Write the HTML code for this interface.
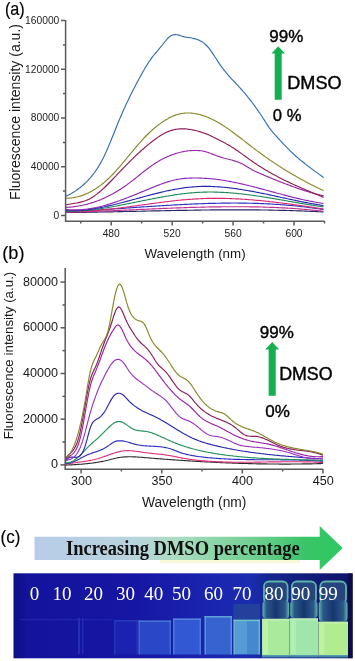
<!DOCTYPE html>
<html><head><meta charset="utf-8">
<style>
html,body{margin:0;padding:0;background:#fff;}
body{width:355px;height:661px;overflow:hidden;position:relative;}
svg{position:absolute;left:0;top:0;will-change:transform;}
text{font-family:"Liberation Sans", sans-serif;fill:#1a1a1a;}
.ta{fill:#222;stroke:none;} .tb{fill:#1a1a1a;stroke:none;}
.ta{font-size:10.25px;}
.tb{font-size:12.6px;}
.serif{font-family:"Liberation Serif", serif;}
.cal{fill:#000;stroke:#000;stroke-width:0.4px;}
.lab{fill:#000;stroke:#000;stroke-width:0.15px;}
</style></head><body>
<svg width="355" height="661" viewBox="0 0 355 661">
<defs>
<linearGradient id="bg" x1="0" y1="0" x2="1" y2="0">
<stop offset="0" stop-color="#b8cce8"/>
<stop offset="0.33" stop-color="#b8d4dc"/>
<stop offset="0.46" stop-color="#acdcc2"/>
<stop offset="0.7" stop-color="#72d092"/>
<stop offset="0.88" stop-color="#3ac468"/>
<stop offset="1" stop-color="#2ec860"/>
</linearGradient>
</defs>
<!-- panel a -->
<text class="lab" transform="translate(4.9,14.9) scale(1,1.19)" style="font-size:16.2px">(a)</text>
<text transform="translate(20.4,112) rotate(-90)" text-anchor="middle" style="font-size:14px">Fluorescence intensity (a.u.)</text>
<text x="195" y="257.9" text-anchor="middle" style="font-size:13.37px">Wavelength (nm)</text>
<g fill="none" stroke-width="1.15" stroke-linejoin="round">
<path d="M65.5,212.5 L66.5,212.5 L67.5,212.5 L68.5,212.5 L69.5,212.5 L70.5,212.5 L71.5,212.5 L72.5,212.5 L73.5,212.4 L74.5,212.4 L75.5,212.4 L76.5,212.4 L77.5,212.4 L78.5,212.4 L79.5,212.4 L80.5,212.3 L81.5,212.3 L82.5,212.3 L83.5,212.3 L84.5,212.3 L85.5,212.3 L86.5,212.3 L87.5,212.2 L88.5,212.2 L89.5,212.2 L90.5,212.2 L91.5,212.2 L92.5,212.2 L93.5,212.1 L94.5,212.1 L95.5,212.1 L96.5,212.1 L97.5,212.1 L98.5,212.0 L99.5,212.0 L100.5,212.0 L101.5,212.0 L102.5,212.0 L103.5,212.0 L104.5,211.9 L105.5,211.9 L106.5,211.9 L107.5,211.9 L108.5,211.9 L109.5,211.8 L110.5,211.8 L111.5,211.8 L112.5,211.8 L113.5,211.8 L114.5,211.7 L115.5,211.7 L116.5,211.7 L117.5,211.7 L118.5,211.6 L119.5,211.6 L120.5,211.6 L121.5,211.6 L122.5,211.6 L123.5,211.5 L124.5,211.5 L125.5,211.5 L126.5,211.5 L127.5,211.5 L128.5,211.4 L129.5,211.4 L130.5,211.4 L131.5,211.4 L132.5,211.3 L133.5,211.3 L134.5,211.3 L135.5,211.3 L136.5,211.3 L137.5,211.2 L138.5,211.2 L139.5,211.2 L140.5,211.2 L141.5,211.2 L142.5,211.1 L143.5,211.1 L144.5,211.1 L145.5,211.1 L146.5,211.0 L147.5,211.0 L148.5,211.0 L149.5,211.0 L150.5,211.0 L151.5,210.9 L152.5,210.9 L153.5,210.9 L154.5,210.9 L155.5,210.9 L156.5,210.8 L157.5,210.8 L158.5,210.8 L159.5,210.8 L160.5,210.8 L161.5,210.7 L162.5,210.7 L163.5,210.7 L164.5,210.7 L165.5,210.6 L166.5,210.6 L167.5,210.6 L168.5,210.6 L169.5,210.6 L170.5,210.6 L171.5,210.5 L172.5,210.5 L173.5,210.5 L174.5,210.5 L175.5,210.5 L176.5,210.4 L177.5,210.4 L178.5,210.4 L179.5,210.4 L180.5,210.4 L181.5,210.4 L182.5,210.3 L183.5,210.3 L184.5,210.3 L185.5,210.3 L186.5,210.3 L187.5,210.3 L188.5,210.2 L189.5,210.2 L190.5,210.2 L191.5,210.2 L192.5,210.2 L193.5,210.2 L194.5,210.1 L195.5,210.1 L196.5,210.1 L197.5,210.1 L198.5,210.1 L199.5,210.1 L200.5,210.1 L201.5,210.0 L202.5,210.0 L203.5,210.0 L204.5,210.0 L205.5,210.0 L206.5,210.0 L207.5,210.0 L208.5,210.0 L209.5,210.0 L210.5,209.9 L211.5,209.9 L212.5,209.9 L213.5,209.9 L214.5,209.9 L215.5,209.9 L216.5,209.9 L217.5,209.9 L218.5,209.9 L219.5,209.9 L220.5,209.9 L221.5,209.9 L222.5,209.9 L223.5,209.8 L224.5,209.8 L225.5,209.8 L226.5,209.8 L227.5,209.8 L228.5,209.8 L229.5,209.8 L230.5,209.8 L231.5,209.8 L232.5,209.8 L233.5,209.8 L234.5,209.8 L235.5,209.8 L236.5,209.8 L237.5,209.8 L238.5,209.8 L239.5,209.8 L240.5,209.8 L241.5,209.8 L242.5,209.8 L243.5,209.8 L244.5,209.8 L245.5,209.8 L246.5,209.8 L247.5,209.8 L248.5,209.8 L249.5,209.9 L250.5,209.9 L251.5,209.9 L252.5,209.9 L253.5,209.9 L254.5,209.9 L255.5,209.9 L256.5,209.9 L257.5,209.9 L258.5,209.9 L259.5,209.9 L260.5,210.0 L261.5,210.0 L262.5,210.0 L263.5,210.0 L264.5,210.0 L265.5,210.0 L266.5,210.0 L267.5,210.0 L268.5,210.1 L269.5,210.1 L270.5,210.1 L271.5,210.1 L272.5,210.1 L273.5,210.2 L274.5,210.2 L275.5,210.2 L276.5,210.2 L277.5,210.2 L278.5,210.3 L279.5,210.3 L280.5,210.3 L281.5,210.3 L282.5,210.3 L283.5,210.4 L284.5,210.4 L285.5,210.4 L286.5,210.5 L287.5,210.5 L288.5,210.5 L289.5,210.5 L290.5,210.6 L291.5,210.6 L292.5,210.6 L293.5,210.7 L294.5,210.7 L295.5,210.7 L296.5,210.8 L297.5,210.8 L298.5,210.8 L299.5,210.9 L300.5,210.9 L301.5,210.9 L302.5,211.0 L303.5,211.0 L304.5,211.1 L305.5,211.1 L306.5,211.1 L307.5,211.2 L308.5,211.2 L309.5,211.3 L310.5,211.3 L311.5,211.4 L312.5,211.4 L313.5,211.4 L314.5,211.5 L315.5,211.5 L316.5,211.6 L317.5,211.6 L318.5,211.7 L319.5,211.7 L320.5,211.8 L321.5,211.8 L322.5,211.9 L323.5,211.9" stroke="#2a2a66"/>
<path d="M65.5,212.2 L66.5,212.1 L67.5,212.1 L68.5,212.1 L69.5,212.1 L70.5,212.1 L71.5,212.0 L72.5,212.0 L73.5,212.0 L74.5,212.0 L75.5,211.9 L76.5,211.9 L77.5,211.9 L78.5,211.9 L79.5,211.8 L80.5,211.8 L81.5,211.8 L82.5,211.7 L83.5,211.7 L84.5,211.7 L85.5,211.7 L86.5,211.6 L87.5,211.6 L88.5,211.6 L89.5,211.5 L90.5,211.5 L91.5,211.5 L92.5,211.4 L93.5,211.4 L94.5,211.3 L95.5,211.3 L96.5,211.3 L97.5,211.2 L98.5,211.2 L99.5,211.2 L100.5,211.1 L101.5,211.1 L102.5,211.1 L103.5,211.0 L104.5,211.0 L105.5,210.9 L106.5,210.9 L107.5,210.9 L108.5,210.8 L109.5,210.8 L110.5,210.7 L111.5,210.7 L112.5,210.7 L113.5,210.6 L114.5,210.6 L115.5,210.5 L116.5,210.5 L117.5,210.4 L118.5,210.4 L119.5,210.4 L120.5,210.3 L121.5,210.3 L122.5,210.2 L123.5,210.2 L124.5,210.1 L125.5,210.1 L126.5,210.1 L127.5,210.0 L128.5,210.0 L129.5,209.9 L130.5,209.9 L131.5,209.8 L132.5,209.8 L133.5,209.8 L134.5,209.7 L135.5,209.7 L136.5,209.6 L137.5,209.6 L138.5,209.5 L139.5,209.5 L140.5,209.4 L141.5,209.4 L142.5,209.4 L143.5,209.3 L144.5,209.3 L145.5,209.2 L146.5,209.2 L147.5,209.1 L148.5,209.1 L149.5,209.0 L150.5,209.0 L151.5,209.0 L152.5,208.9 L153.5,208.9 L154.5,208.8 L155.5,208.8 L156.5,208.7 L157.5,208.7 L158.5,208.7 L159.5,208.6 L160.5,208.6 L161.5,208.5 L162.5,208.5 L163.5,208.4 L164.5,208.4 L165.5,208.4 L166.5,208.3 L167.5,208.3 L168.5,208.2 L169.5,208.2 L170.5,208.2 L171.5,208.1 L172.5,208.1 L173.5,208.0 L174.5,208.0 L175.5,208.0 L176.5,207.9 L177.5,207.9 L178.5,207.9 L179.5,207.8 L180.5,207.8 L181.5,207.7 L182.5,207.7 L183.5,207.7 L184.5,207.6 L185.5,207.6 L186.5,207.6 L187.5,207.5 L188.5,207.5 L189.5,207.5 L190.5,207.4 L191.5,207.4 L192.5,207.4 L193.5,207.4 L194.5,207.3 L195.5,207.3 L196.5,207.3 L197.5,207.2 L198.5,207.2 L199.5,207.2 L200.5,207.2 L201.5,207.1 L202.5,207.1 L203.5,207.1 L204.5,207.1 L205.5,207.0 L206.5,207.0 L207.5,207.0 L208.5,207.0 L209.5,206.9 L210.5,206.9 L211.5,206.9 L212.5,206.9 L213.5,206.9 L214.5,206.9 L215.5,206.8 L216.5,206.8 L217.5,206.8 L218.5,206.8 L219.5,206.8 L220.5,206.8 L221.5,206.8 L222.5,206.7 L223.5,206.7 L224.5,206.7 L225.5,206.7 L226.5,206.7 L227.5,206.7 L228.5,206.7 L229.5,206.7 L230.5,206.7 L231.5,206.7 L232.5,206.7 L233.5,206.7 L234.5,206.7 L235.5,206.7 L236.5,206.7 L237.5,206.7 L238.5,206.7 L239.5,206.7 L240.5,206.7 L241.5,206.7 L242.5,206.7 L243.5,206.7 L244.5,206.7 L245.5,206.7 L246.5,206.7 L247.5,206.7 L248.5,206.7 L249.5,206.8 L250.5,206.8 L251.5,206.8 L252.5,206.8 L253.5,206.8 L254.5,206.8 L255.5,206.9 L256.5,206.9 L257.5,206.9 L258.5,206.9 L259.5,207.0 L260.5,207.0 L261.5,207.0 L262.5,207.0 L263.5,207.1 L264.5,207.1 L265.5,207.1 L266.5,207.2 L267.5,207.2 L268.5,207.2 L269.5,207.3 L270.5,207.3 L271.5,207.3 L272.5,207.4 L273.5,207.4 L274.5,207.5 L275.5,207.5 L276.5,207.5 L277.5,207.6 L278.5,207.6 L279.5,207.7 L280.5,207.7 L281.5,207.8 L282.5,207.8 L283.5,207.9 L284.5,207.9 L285.5,208.0 L286.5,208.1 L287.5,208.1 L288.5,208.2 L289.5,208.2 L290.5,208.3 L291.5,208.4 L292.5,208.4 L293.5,208.5 L294.5,208.6 L295.5,208.7 L296.5,208.7 L297.5,208.8 L298.5,208.9 L299.5,208.9 L300.5,209.0 L301.5,209.1 L302.5,209.2 L303.5,209.3 L304.5,209.4 L305.5,209.4 L306.5,209.5 L307.5,209.6 L308.5,209.7 L309.5,209.8 L310.5,209.9 L311.5,210.0 L312.5,210.1 L313.5,210.2 L314.5,210.3 L315.5,210.4 L316.5,210.5 L317.5,210.6 L318.5,210.7 L319.5,210.8 L320.5,210.9 L321.5,211.0 L322.5,211.2 L323.5,211.3" stroke="#c03090"/>
<path d="M65.5,211.8 L66.5,211.7 L67.5,211.7 L68.5,211.6 L69.5,211.6 L70.5,211.6 L71.5,211.5 L72.5,211.5 L73.5,211.4 L74.5,211.3 L75.5,211.3 L76.5,211.2 L77.5,211.2 L78.5,211.1 L79.5,211.1 L80.5,211.0 L81.5,211.0 L82.5,210.9 L83.5,210.9 L84.5,210.8 L85.5,210.7 L86.5,210.7 L87.5,210.6 L88.5,210.6 L89.5,210.5 L90.5,210.4 L91.5,210.4 L92.5,210.3 L93.5,210.3 L94.5,210.2 L95.5,210.1 L96.5,210.1 L97.5,210.0 L98.5,209.9 L99.5,209.9 L100.5,209.8 L101.5,209.7 L102.5,209.7 L103.5,209.6 L104.5,209.5 L105.5,209.5 L106.5,209.4 L107.5,209.3 L108.5,209.3 L109.5,209.2 L110.5,209.1 L111.5,209.1 L112.5,209.0 L113.5,208.9 L114.5,208.9 L115.5,208.8 L116.5,208.7 L117.5,208.7 L118.5,208.6 L119.5,208.5 L120.5,208.5 L121.5,208.4 L122.5,208.3 L123.5,208.3 L124.5,208.2 L125.5,208.1 L126.5,208.0 L127.5,208.0 L128.5,207.9 L129.5,207.8 L130.5,207.8 L131.5,207.7 L132.5,207.6 L133.5,207.6 L134.5,207.5 L135.5,207.4 L136.5,207.4 L137.5,207.3 L138.5,207.2 L139.5,207.1 L140.5,207.1 L141.5,207.0 L142.5,206.9 L143.5,206.9 L144.5,206.8 L145.5,206.7 L146.5,206.7 L147.5,206.6 L148.5,206.5 L149.5,206.5 L150.5,206.4 L151.5,206.3 L152.5,206.3 L153.5,206.2 L154.5,206.1 L155.5,206.1 L156.5,206.0 L157.5,206.0 L158.5,205.9 L159.5,205.8 L160.5,205.8 L161.5,205.7 L162.5,205.6 L163.5,205.6 L164.5,205.5 L165.5,205.5 L166.5,205.4 L167.5,205.3 L168.5,205.3 L169.5,205.2 L170.5,205.2 L171.5,205.1 L172.5,205.0 L173.5,205.0 L174.5,204.9 L175.5,204.9 L176.5,204.8 L177.5,204.8 L178.5,204.7 L179.5,204.7 L180.5,204.6 L181.5,204.6 L182.5,204.5 L183.5,204.5 L184.5,204.4 L185.5,204.4 L186.5,204.3 L187.5,204.3 L188.5,204.2 L189.5,204.2 L190.5,204.1 L191.5,204.1 L192.5,204.0 L193.5,204.0 L194.5,203.9 L195.5,203.9 L196.5,203.9 L197.5,203.8 L198.5,203.8 L199.5,203.7 L200.5,203.7 L201.5,203.7 L202.5,203.6 L203.5,203.6 L204.5,203.6 L205.5,203.5 L206.5,203.5 L207.5,203.5 L208.5,203.4 L209.5,203.4 L210.5,203.4 L211.5,203.4 L212.5,203.3 L213.5,203.3 L214.5,203.3 L215.5,203.3 L216.5,203.2 L217.5,203.2 L218.5,203.2 L219.5,203.2 L220.5,203.2 L221.5,203.1 L222.5,203.1 L223.5,203.1 L224.5,203.1 L225.5,203.1 L226.5,203.1 L227.5,203.1 L228.5,203.1 L229.5,203.1 L230.5,203.0 L231.5,203.0 L232.5,203.0 L233.5,203.0 L234.5,203.0 L235.5,203.0 L236.5,203.0 L237.5,203.0 L238.5,203.1 L239.5,203.1 L240.5,203.1 L241.5,203.1 L242.5,203.1 L243.5,203.1 L244.5,203.1 L245.5,203.1 L246.5,203.1 L247.5,203.2 L248.5,203.2 L249.5,203.2 L250.5,203.2 L251.5,203.2 L252.5,203.3 L253.5,203.3 L254.5,203.3 L255.5,203.3 L256.5,203.4 L257.5,203.4 L258.5,203.4 L259.5,203.5 L260.5,203.5 L261.5,203.6 L262.5,203.6 L263.5,203.6 L264.5,203.7 L265.5,203.7 L266.5,203.8 L267.5,203.8 L268.5,203.9 L269.5,203.9 L270.5,204.0 L271.5,204.0 L272.5,204.1 L273.5,204.2 L274.5,204.2 L275.5,204.3 L276.5,204.3 L277.5,204.4 L278.5,204.5 L279.5,204.5 L280.5,204.6 L281.5,204.7 L282.5,204.8 L283.5,204.8 L284.5,204.9 L285.5,205.0 L286.5,205.1 L287.5,205.2 L288.5,205.3 L289.5,205.3 L290.5,205.4 L291.5,205.5 L292.5,205.6 L293.5,205.7 L294.5,205.8 L295.5,205.9 L296.5,206.0 L297.5,206.1 L298.5,206.2 L299.5,206.3 L300.5,206.5 L301.5,206.6 L302.5,206.7 L303.5,206.8 L304.5,206.9 L305.5,207.0 L306.5,207.2 L307.5,207.3 L308.5,207.4 L309.5,207.6 L310.5,207.7 L311.5,207.8 L312.5,208.0 L313.5,208.1 L314.5,208.2 L315.5,208.4 L316.5,208.5 L317.5,208.7 L318.5,208.8 L319.5,209.0 L320.5,209.1 L321.5,209.3 L322.5,209.5 L323.5,209.6" stroke="#3030c0"/>
<path d="M65.5,211.8 L66.5,211.8 L67.5,211.8 L68.5,211.8 L69.5,211.8 L70.5,211.8 L71.5,211.8 L72.5,211.8 L73.5,211.8 L74.5,211.7 L75.5,211.7 L76.5,211.7 L77.5,211.7 L78.5,211.6 L79.5,211.6 L80.5,211.6 L81.5,211.5 L82.5,211.5 L83.5,211.4 L84.5,211.4 L85.5,211.3 L86.5,211.2 L87.5,211.2 L88.5,211.1 L89.5,211.0 L90.5,211.0 L91.5,210.9 L92.5,210.8 L93.5,210.8 L94.5,210.7 L95.5,210.6 L96.5,210.5 L97.5,210.4 L98.5,210.3 L99.5,210.2 L100.5,210.1 L101.5,210.0 L102.5,209.9 L103.5,209.8 L104.5,209.7 L105.5,209.6 L106.5,209.5 L107.5,209.4 L108.5,209.3 L109.5,209.2 L110.5,209.1 L111.5,209.0 L112.5,208.9 L113.5,208.7 L114.5,208.6 L115.5,208.5 L116.5,208.4 L117.5,208.2 L118.5,208.1 L119.5,208.0 L120.5,207.9 L121.5,207.7 L122.5,207.6 L123.5,207.5 L124.5,207.3 L125.5,207.2 L126.5,207.1 L127.5,206.9 L128.5,206.8 L129.5,206.7 L130.5,206.5 L131.5,206.4 L132.5,206.3 L133.5,206.1 L134.5,206.0 L135.5,205.9 L136.5,205.7 L137.5,205.6 L138.5,205.4 L139.5,205.3 L140.5,205.2 L141.5,205.0 L142.5,204.9 L143.5,204.7 L144.5,204.6 L145.5,204.5 L146.5,204.3 L147.5,204.2 L148.5,204.1 L149.5,203.9 L150.5,203.8 L151.5,203.6 L152.5,203.5 L153.5,203.4 L154.5,203.2 L155.5,203.1 L156.5,203.0 L157.5,202.8 L158.5,202.7 L159.5,202.6 L160.5,202.4 L161.5,202.3 L162.5,202.2 L163.5,202.1 L164.5,201.9 L165.5,201.8 L166.5,201.7 L167.5,201.6 L168.5,201.5 L169.5,201.3 L170.5,201.2 L171.5,201.1 L172.5,201.0 L173.5,200.9 L174.5,200.8 L175.5,200.7 L176.5,200.5 L177.5,200.4 L178.5,200.3 L179.5,200.2 L180.5,200.1 L181.5,200.0 L182.5,199.9 L183.5,199.9 L184.5,199.8 L185.5,199.7 L186.5,199.6 L187.5,199.5 L188.5,199.4 L189.5,199.3 L190.5,199.3 L191.5,199.2 L192.5,199.1 L193.5,199.1 L194.5,199.0 L195.5,198.9 L196.5,198.9 L197.5,198.8 L198.5,198.8 L199.5,198.7 L200.5,198.7 L201.5,198.6 L202.5,198.6 L203.5,198.5 L204.5,198.5 L205.5,198.5 L206.5,198.4 L207.5,198.4 L208.5,198.4 L209.5,198.4 L210.5,198.4 L211.5,198.3 L212.5,198.3 L213.5,198.3 L214.5,198.3 L215.5,198.3 L216.5,198.3 L217.5,198.3 L218.5,198.3 L219.5,198.3 L220.5,198.3 L221.5,198.4 L222.5,198.4 L223.5,198.4 L224.5,198.4 L225.5,198.4 L226.5,198.5 L227.5,198.5 L228.5,198.5 L229.5,198.5 L230.5,198.6 L231.5,198.6 L232.5,198.7 L233.5,198.7 L234.5,198.7 L235.5,198.8 L236.5,198.8 L237.5,198.9 L238.5,198.9 L239.5,199.0 L240.5,199.1 L241.5,199.1 L242.5,199.2 L243.5,199.2 L244.5,199.3 L245.5,199.4 L246.5,199.4 L247.5,199.5 L248.5,199.6 L249.5,199.7 L250.5,199.7 L251.5,199.8 L252.5,199.9 L253.5,200.0 L254.5,200.1 L255.5,200.2 L256.5,200.3 L257.5,200.3 L258.5,200.4 L259.5,200.5 L260.5,200.6 L261.5,200.7 L262.5,200.8 L263.5,200.9 L264.5,201.0 L265.5,201.1 L266.5,201.2 L267.5,201.3 L268.5,201.4 L269.5,201.6 L270.5,201.7 L271.5,201.8 L272.5,201.9 L273.5,202.0 L274.5,202.1 L275.5,202.2 L276.5,202.4 L277.5,202.5 L278.5,202.6 L279.5,202.7 L280.5,202.8 L281.5,203.0 L282.5,203.1 L283.5,203.2 L284.5,203.4 L285.5,203.5 L286.5,203.6 L287.5,203.7 L288.5,203.9 L289.5,204.0 L290.5,204.1 L291.5,204.3 L292.5,204.4 L293.5,204.6 L294.5,204.7 L295.5,204.8 L296.5,205.0 L297.5,205.1 L298.5,205.2 L299.5,205.4 L300.5,205.5 L301.5,205.7 L302.5,205.8 L303.5,206.0 L304.5,206.1 L305.5,206.3 L306.5,206.4 L307.5,206.5 L308.5,206.7 L309.5,206.8 L310.5,207.0 L311.5,207.1 L312.5,207.3 L313.5,207.4 L314.5,207.6 L315.5,207.7 L316.5,207.9 L317.5,208.0 L318.5,208.2 L319.5,208.3 L320.5,208.5 L321.5,208.6 L322.5,208.8 L323.5,208.9" stroke="#d82a72"/>
<path d="M65.5,211.3 L66.5,211.3 L67.5,211.3 L68.5,211.3 L69.5,211.3 L70.5,211.3 L71.5,211.2 L72.5,211.2 L73.5,211.2 L74.5,211.2 L75.5,211.1 L76.5,211.1 L77.5,211.0 L78.5,211.0 L79.5,210.9 L80.5,210.8 L81.5,210.8 L82.5,210.7 L83.5,210.6 L84.5,210.5 L85.5,210.4 L86.5,210.4 L87.5,210.3 L88.5,210.2 L89.5,210.1 L90.5,209.9 L91.5,209.8 L92.5,209.7 L93.5,209.6 L94.5,209.5 L95.5,209.3 L96.5,209.2 L97.5,209.1 L98.5,208.9 L99.5,208.8 L100.5,208.7 L101.5,208.5 L102.5,208.4 L103.5,208.2 L104.5,208.0 L105.5,207.9 L106.5,207.7 L107.5,207.6 L108.5,207.4 L109.5,207.2 L110.5,207.0 L111.5,206.9 L112.5,206.7 L113.5,206.5 L114.5,206.3 L115.5,206.2 L116.5,206.0 L117.5,205.8 L118.5,205.6 L119.5,205.4 L120.5,205.2 L121.5,205.0 L122.5,204.8 L123.5,204.6 L124.5,204.4 L125.5,204.2 L126.5,204.0 L127.5,203.8 L128.5,203.6 L129.5,203.4 L130.5,203.2 L131.5,203.0 L132.5,202.8 L133.5,202.6 L134.5,202.4 L135.5,202.2 L136.5,202.0 L137.5,201.8 L138.5,201.6 L139.5,201.4 L140.5,201.2 L141.5,201.0 L142.5,200.8 L143.5,200.6 L144.5,200.4 L145.5,200.2 L146.5,200.0 L147.5,199.8 L148.5,199.6 L149.5,199.4 L150.5,199.2 L151.5,199.0 L152.5,198.8 L153.5,198.6 L154.5,198.4 L155.5,198.2 L156.5,198.0 L157.5,197.8 L158.5,197.6 L159.5,197.5 L160.5,197.3 L161.5,197.1 L162.5,196.9 L163.5,196.7 L164.5,196.6 L165.5,196.4 L166.5,196.2 L167.5,196.0 L168.5,195.9 L169.5,195.7 L170.5,195.5 L171.5,195.4 L172.5,195.2 L173.5,195.1 L174.5,194.9 L175.5,194.8 L176.5,194.6 L177.5,194.5 L178.5,194.3 L179.5,194.2 L180.5,194.1 L181.5,193.9 L182.5,193.8 L183.5,193.7 L184.5,193.6 L185.5,193.5 L186.5,193.3 L187.5,193.2 L188.5,193.1 L189.5,193.0 L190.5,192.9 L191.5,192.8 L192.5,192.8 L193.5,192.7 L194.5,192.6 L195.5,192.5 L196.5,192.5 L197.5,192.4 L198.5,192.3 L199.5,192.3 L200.5,192.2 L201.5,192.2 L202.5,192.2 L203.5,192.1 L204.5,192.1 L205.5,192.1 L206.5,192.1 L207.5,192.0 L208.5,192.0 L209.5,192.0 L210.5,192.0 L211.5,192.0 L212.5,192.0 L213.5,192.0 L214.5,192.1 L215.5,192.1 L216.5,192.1 L217.5,192.1 L218.5,192.2 L219.5,192.2 L220.5,192.3 L221.5,192.3 L222.5,192.3 L223.5,192.4 L224.5,192.5 L225.5,192.5 L226.5,192.6 L227.5,192.6 L228.5,192.7 L229.5,192.8 L230.5,192.9 L231.5,193.0 L232.5,193.0 L233.5,193.1 L234.5,193.2 L235.5,193.3 L236.5,193.4 L237.5,193.5 L238.5,193.6 L239.5,193.7 L240.5,193.8 L241.5,193.9 L242.5,194.0 L243.5,194.2 L244.5,194.3 L245.5,194.4 L246.5,194.5 L247.5,194.7 L248.5,194.8 L249.5,194.9 L250.5,195.0 L251.5,195.2 L252.5,195.3 L253.5,195.5 L254.5,195.6 L255.5,195.7 L256.5,195.9 L257.5,196.0 L258.5,196.2 L259.5,196.3 L260.5,196.5 L261.5,196.6 L262.5,196.8 L263.5,197.0 L264.5,197.1 L265.5,197.3 L266.5,197.4 L267.5,197.6 L268.5,197.8 L269.5,197.9 L270.5,198.1 L271.5,198.3 L272.5,198.4 L273.5,198.6 L274.5,198.8 L275.5,198.9 L276.5,199.1 L277.5,199.3 L278.5,199.4 L279.5,199.6 L280.5,199.8 L281.5,200.0 L282.5,200.1 L283.5,200.3 L284.5,200.5 L285.5,200.7 L286.5,200.8 L287.5,201.0 L288.5,201.2 L289.5,201.4 L290.5,201.5 L291.5,201.7 L292.5,201.9 L293.5,202.1 L294.5,202.2 L295.5,202.4 L296.5,202.6 L297.5,202.7 L298.5,202.9 L299.5,203.1 L300.5,203.3 L301.5,203.4 L302.5,203.6 L303.5,203.8 L304.5,203.9 L305.5,204.1 L306.5,204.3 L307.5,204.4 L308.5,204.6 L309.5,204.8 L310.5,204.9 L311.5,205.1 L312.5,205.2 L313.5,205.4 L314.5,205.6 L315.5,205.7 L316.5,205.9 L317.5,206.0 L318.5,206.2 L319.5,206.3 L320.5,206.5 L321.5,206.6 L322.5,206.7 L323.5,206.9" stroke="#22875a"/>
<path d="M65.5,210.6 L66.5,210.6 L67.5,210.7 L68.5,210.7 L69.5,210.7 L70.5,210.7 L71.5,210.7 L72.5,210.7 L73.5,210.7 L74.5,210.6 L75.5,210.6 L76.5,210.6 L77.5,210.5 L78.5,210.4 L79.5,210.4 L80.5,210.3 L81.5,210.2 L82.5,210.1 L83.5,210.0 L84.5,209.9 L85.5,209.8 L86.5,209.7 L87.5,209.6 L88.5,209.5 L89.5,209.4 L90.5,209.2 L91.5,209.1 L92.5,208.9 L93.5,208.8 L94.5,208.6 L95.5,208.4 L96.5,208.3 L97.5,208.1 L98.5,207.9 L99.5,207.7 L100.5,207.6 L101.5,207.4 L102.5,207.2 L103.5,207.0 L104.5,206.8 L105.5,206.5 L106.5,206.3 L107.5,206.1 L108.5,205.9 L109.5,205.7 L110.5,205.4 L111.5,205.2 L112.5,205.0 L113.5,204.7 L114.5,204.5 L115.5,204.2 L116.5,204.0 L117.5,203.7 L118.5,203.5 L119.5,203.2 L120.5,203.0 L121.5,202.7 L122.5,202.5 L123.5,202.2 L124.5,201.9 L125.5,201.7 L126.5,201.4 L127.5,201.1 L128.5,200.9 L129.5,200.6 L130.5,200.3 L131.5,200.1 L132.5,199.8 L133.5,199.5 L134.5,199.2 L135.5,199.0 L136.5,198.7 L137.5,198.4 L138.5,198.2 L139.5,197.9 L140.5,197.6 L141.5,197.3 L142.5,197.1 L143.5,196.8 L144.5,196.5 L145.5,196.3 L146.5,196.0 L147.5,195.7 L148.5,195.4 L149.5,195.2 L150.5,194.9 L151.5,194.7 L152.5,194.4 L153.5,194.1 L154.5,193.9 L155.5,193.6 L156.5,193.4 L157.5,193.1 L158.5,192.9 L159.5,192.6 L160.5,192.4 L161.5,192.2 L162.5,191.9 L163.5,191.7 L164.5,191.5 L165.5,191.2 L166.5,191.0 L167.5,190.8 L168.5,190.6 L169.5,190.4 L170.5,190.2 L171.5,190.0 L172.5,189.8 L173.5,189.6 L174.5,189.4 L175.5,189.2 L176.5,189.0 L177.5,188.9 L178.5,188.7 L179.5,188.5 L180.5,188.4 L181.5,188.2 L182.5,188.1 L183.5,187.9 L184.5,187.8 L185.5,187.6 L186.5,187.5 L187.5,187.4 L188.5,187.3 L189.5,187.2 L190.5,187.1 L191.5,187.0 L192.5,186.9 L193.5,186.8 L194.5,186.8 L195.5,186.7 L196.5,186.6 L197.5,186.6 L198.5,186.5 L199.5,186.5 L200.5,186.5 L201.5,186.4 L202.5,186.4 L203.5,186.4 L204.5,186.4 L205.5,186.4 L206.5,186.4 L207.5,186.4 L208.5,186.4 L209.5,186.4 L210.5,186.4 L211.5,186.5 L212.5,186.5 L213.5,186.6 L214.5,186.6 L215.5,186.7 L216.5,186.7 L217.5,186.8 L218.5,186.8 L219.5,186.9 L220.5,187.0 L221.5,187.1 L222.5,187.2 L223.5,187.2 L224.5,187.3 L225.5,187.4 L226.5,187.5 L227.5,187.6 L228.5,187.8 L229.5,187.9 L230.5,188.0 L231.5,188.1 L232.5,188.2 L233.5,188.4 L234.5,188.5 L235.5,188.6 L236.5,188.8 L237.5,188.9 L238.5,189.1 L239.5,189.2 L240.5,189.4 L241.5,189.5 L242.5,189.7 L243.5,189.9 L244.5,190.0 L245.5,190.2 L246.5,190.4 L247.5,190.5 L248.5,190.7 L249.5,190.9 L250.5,191.1 L251.5,191.3 L252.5,191.4 L253.5,191.6 L254.5,191.8 L255.5,192.0 L256.5,192.2 L257.5,192.4 L258.5,192.6 L259.5,192.8 L260.5,193.0 L261.5,193.2 L262.5,193.4 L263.5,193.6 L264.5,193.8 L265.5,194.0 L266.5,194.2 L267.5,194.4 L268.5,194.7 L269.5,194.9 L270.5,195.1 L271.5,195.3 L272.5,195.5 L273.5,195.7 L274.5,195.9 L275.5,196.2 L276.5,196.4 L277.5,196.6 L278.5,196.8 L279.5,197.0 L280.5,197.2 L281.5,197.5 L282.5,197.7 L283.5,197.9 L284.5,198.1 L285.5,198.3 L286.5,198.5 L287.5,198.8 L288.5,199.0 L289.5,199.2 L290.5,199.4 L291.5,199.6 L292.5,199.8 L293.5,200.0 L294.5,200.2 L295.5,200.4 L296.5,200.7 L297.5,200.9 L298.5,201.1 L299.5,201.3 L300.5,201.5 L301.5,201.7 L302.5,201.9 L303.5,202.1 L304.5,202.3 L305.5,202.4 L306.5,202.6 L307.5,202.8 L308.5,203.0 L309.5,203.2 L310.5,203.4 L311.5,203.6 L312.5,203.7 L313.5,203.9 L314.5,204.1 L315.5,204.3 L316.5,204.4 L317.5,204.6 L318.5,204.7 L319.5,204.9 L320.5,205.1 L321.5,205.2 L322.5,205.4 L323.5,205.5" stroke="#2424b0"/>
<path d="M65.5,209.3 L66.5,209.4 L67.5,209.5 L68.5,209.6 L69.5,209.7 L70.5,209.8 L71.5,209.8 L72.5,209.9 L73.5,209.9 L74.5,209.9 L75.5,209.9 L76.5,209.9 L77.5,209.9 L78.5,209.8 L79.5,209.8 L80.5,209.7 L81.5,209.7 L82.5,209.6 L83.5,209.5 L84.5,209.4 L85.5,209.3 L86.5,209.2 L87.5,209.1 L88.5,208.9 L89.5,208.8 L90.5,208.6 L91.5,208.4 L92.5,208.3 L93.5,208.1 L94.5,207.9 L95.5,207.7 L96.5,207.5 L97.5,207.2 L98.5,207.0 L99.5,206.8 L100.5,206.5 L101.5,206.3 L102.5,206.0 L103.5,205.8 L104.5,205.5 L105.5,205.2 L106.5,204.9 L107.5,204.6 L108.5,204.3 L109.5,204.0 L110.5,203.7 L111.5,203.4 L112.5,203.1 L113.5,202.7 L114.5,202.4 L115.5,202.1 L116.5,201.7 L117.5,201.4 L118.5,201.0 L119.5,200.7 L120.5,200.3 L121.5,199.9 L122.5,199.6 L123.5,199.2 L124.5,198.8 L125.5,198.4 L126.5,198.0 L127.5,197.7 L128.5,197.3 L129.5,196.9 L130.5,196.5 L131.5,196.1 L132.5,195.7 L133.5,195.3 L134.5,194.9 L135.5,194.5 L136.5,194.1 L137.5,193.6 L138.5,193.2 L139.5,192.8 L140.5,192.4 L141.5,192.0 L142.5,191.6 L143.5,191.2 L144.5,190.8 L145.5,190.4 L146.5,189.9 L147.5,189.5 L148.5,189.1 L149.5,188.7 L150.5,188.3 L151.5,187.9 L152.5,187.5 L153.5,187.1 L154.5,186.7 L155.5,186.3 L156.5,185.9 L157.5,185.5 L158.5,185.1 L159.5,184.7 L160.5,184.3 L161.5,184.0 L162.5,183.6 L163.5,183.3 L164.5,182.9 L165.5,182.6 L166.5,182.2 L167.5,181.9 L168.5,181.6 L169.5,181.3 L170.5,181.0 L171.5,180.7 L172.5,180.5 L173.5,180.2 L174.5,180.0 L175.5,179.8 L176.5,179.6 L177.5,179.4 L178.5,179.2 L179.5,179.0 L180.5,178.9 L181.5,178.7 L182.5,178.6 L183.5,178.5 L184.5,178.4 L185.5,178.3 L186.5,178.3 L187.5,178.2 L188.5,178.2 L189.5,178.1 L190.5,178.1 L191.5,178.1 L192.5,178.0 L193.5,178.0 L194.5,178.0 L195.5,178.0 L196.5,178.0 L197.5,178.0 L198.5,178.0 L199.5,178.1 L200.5,178.1 L201.5,178.1 L202.5,178.2 L203.5,178.2 L204.5,178.3 L205.5,178.3 L206.5,178.4 L207.5,178.5 L208.5,178.5 L209.5,178.6 L210.5,178.7 L211.5,178.8 L212.5,178.9 L213.5,179.0 L214.5,179.1 L215.5,179.2 L216.5,179.3 L217.5,179.5 L218.5,179.6 L219.5,179.7 L220.5,179.9 L221.5,180.0 L222.5,180.2 L223.5,180.3 L224.5,180.5 L225.5,180.7 L226.5,180.8 L227.5,181.0 L228.5,181.2 L229.5,181.4 L230.5,181.6 L231.5,181.8 L232.5,182.0 L233.5,182.2 L234.5,182.4 L235.5,182.6 L236.5,182.8 L237.5,183.0 L238.5,183.2 L239.5,183.4 L240.5,183.7 L241.5,183.9 L242.5,184.1 L243.5,184.3 L244.5,184.6 L245.5,184.8 L246.5,185.1 L247.5,185.3 L248.5,185.5 L249.5,185.8 L250.5,186.0 L251.5,186.3 L252.5,186.5 L253.5,186.8 L254.5,187.1 L255.5,187.3 L256.5,187.6 L257.5,187.8 L258.5,188.1 L259.5,188.4 L260.5,188.6 L261.5,188.9 L262.5,189.2 L263.5,189.4 L264.5,189.7 L265.5,190.0 L266.5,190.2 L267.5,190.5 L268.5,190.8 L269.5,191.1 L270.5,191.3 L271.5,191.6 L272.5,191.9 L273.5,192.1 L274.5,192.4 L275.5,192.7 L276.5,193.0 L277.5,193.2 L278.5,193.5 L279.5,193.8 L280.5,194.0 L281.5,194.3 L282.5,194.6 L283.5,194.8 L284.5,195.1 L285.5,195.4 L286.5,195.6 L287.5,195.9 L288.5,196.1 L289.5,196.4 L290.5,196.7 L291.5,196.9 L292.5,197.2 L293.5,197.4 L294.5,197.7 L295.5,197.9 L296.5,198.1 L297.5,198.4 L298.5,198.6 L299.5,198.9 L300.5,199.1 L301.5,199.3 L302.5,199.5 L303.5,199.8 L304.5,200.0 L305.5,200.2 L306.5,200.4 L307.5,200.6 L308.5,200.8 L309.5,201.0 L310.5,201.2 L311.5,201.4 L312.5,201.6 L313.5,201.8 L314.5,202.0 L315.5,202.2 L316.5,202.3 L317.5,202.5 L318.5,202.7 L319.5,202.8 L320.5,203.0 L321.5,203.2 L322.5,203.3 L323.5,203.4" stroke="#8c26b8"/>
<path d="M65.5,207.4 L66.5,207.3 L67.5,207.3 L68.5,207.2 L69.5,207.1 L70.5,207.1 L71.5,207.0 L72.5,206.9 L73.5,206.7 L74.5,206.6 L75.5,206.5 L76.5,206.3 L77.5,206.2 L78.5,206.0 L79.5,205.8 L80.5,205.7 L81.5,205.5 L82.5,205.3 L83.5,205.0 L84.5,204.8 L85.5,204.6 L86.5,204.3 L87.5,204.1 L88.5,203.8 L89.5,203.5 L90.5,203.2 L91.5,202.9 L92.5,202.6 L93.5,202.3 L94.5,201.9 L95.5,201.6 L96.5,201.2 L97.5,200.8 L98.5,200.5 L99.5,200.1 L100.5,199.7 L101.5,199.2 L102.5,198.8 L103.5,198.4 L104.5,197.9 L105.5,197.5 L106.5,197.0 L107.5,196.5 L108.5,196.0 L109.5,195.5 L110.5,195.0 L111.5,194.5 L112.5,193.9 L113.5,193.4 L114.5,192.8 L115.5,192.2 L116.5,191.6 L117.5,191.0 L118.5,190.4 L119.5,189.8 L120.5,189.2 L121.5,188.5 L122.5,187.8 L123.5,187.2 L124.5,186.5 L125.5,185.8 L126.5,185.1 L127.5,184.3 L128.5,183.6 L129.5,182.9 L130.5,182.1 L131.5,181.3 L132.5,180.6 L133.5,179.8 L134.5,179.0 L135.5,178.2 L136.5,177.4 L137.5,176.6 L138.5,175.8 L139.5,175.0 L140.5,174.2 L141.5,173.4 L142.5,172.6 L143.5,171.8 L144.5,171.0 L145.5,170.3 L146.5,169.5 L147.5,168.7 L148.5,168.0 L149.5,167.2 L150.5,166.5 L151.5,165.8 L152.5,165.1 L153.5,164.4 L154.5,163.8 L155.5,163.1 L156.5,162.5 L157.5,161.9 L158.5,161.3 L159.5,160.7 L160.5,160.1 L161.5,159.6 L162.5,159.0 L163.5,158.5 L164.5,158.0 L165.5,157.5 L166.5,157.1 L167.5,156.6 L168.5,156.2 L169.5,155.8 L170.5,155.4 L171.5,155.0 L172.5,154.6 L173.5,154.3 L174.5,153.9 L175.5,153.6 L176.5,153.3 L177.5,153.0 L178.5,152.7 L179.5,152.5 L180.5,152.2 L181.5,152.0 L182.5,151.8 L183.5,151.6 L184.5,151.4 L185.5,151.2 L186.5,151.1 L187.5,150.9 L188.5,150.8 L189.5,150.7 L190.5,150.6 L191.5,150.6 L192.5,150.5 L193.5,150.5 L194.5,150.5 L195.5,150.5 L196.5,150.5 L197.5,150.5 L198.5,150.6 L199.5,150.6 L200.5,150.7 L201.5,150.8 L202.5,151.0 L203.5,151.2 L204.5,151.4 L205.5,151.7 L206.5,152.0 L207.5,152.3 L208.5,152.6 L209.5,153.0 L210.5,153.3 L211.5,153.7 L212.5,154.1 L213.5,154.5 L214.5,154.9 L215.5,155.3 L216.5,155.7 L217.5,156.0 L218.5,156.4 L219.5,156.8 L220.5,157.1 L221.5,157.4 L222.5,157.7 L223.5,158.0 L224.5,158.2 L225.5,158.5 L226.5,158.7 L227.5,159.0 L228.5,159.2 L229.5,159.5 L230.5,159.8 L231.5,160.0 L232.5,160.3 L233.5,160.6 L234.5,160.9 L235.5,161.2 L236.5,161.5 L237.5,161.9 L238.5,162.3 L239.5,162.7 L240.5,163.1 L241.5,163.6 L242.5,164.1 L243.5,164.6 L244.5,165.2 L245.5,165.8 L246.5,166.4 L247.5,167.0 L248.5,167.6 L249.5,168.2 L250.5,168.8 L251.5,169.4 L252.5,169.9 L253.5,170.5 L254.5,171.0 L255.5,171.5 L256.5,171.9 L257.5,172.4 L258.5,172.8 L259.5,173.3 L260.5,173.7 L261.5,174.1 L262.5,174.5 L263.5,174.9 L264.5,175.4 L265.5,175.8 L266.5,176.2 L267.5,176.6 L268.5,177.0 L269.5,177.4 L270.5,177.9 L271.5,178.3 L272.5,178.7 L273.5,179.1 L274.5,179.5 L275.5,179.9 L276.5,180.3 L277.5,180.7 L278.5,181.1 L279.5,181.5 L280.5,181.9 L281.5,182.3 L282.5,182.7 L283.5,183.1 L284.5,183.5 L285.5,183.8 L286.5,184.2 L287.5,184.6 L288.5,185.0 L289.5,185.4 L290.5,185.7 L291.5,186.1 L292.5,186.5 L293.5,186.8 L294.5,187.2 L295.5,187.5 L296.5,187.9 L297.5,188.2 L298.5,188.6 L299.5,188.9 L300.5,189.3 L301.5,189.6 L302.5,189.9 L303.5,190.2 L304.5,190.6 L305.5,190.9 L306.5,191.2 L307.5,191.5 L308.5,191.8 L309.5,192.1 L310.5,192.4 L311.5,192.7 L312.5,193.0 L313.5,193.3 L314.5,193.6 L315.5,193.9 L316.5,194.1 L317.5,194.4 L318.5,194.7 L319.5,194.9 L320.5,195.2 L321.5,195.4 L322.5,195.6 L323.5,195.9 L323.6,195.9" stroke="#9a26aa"/>
<path d="M65.5,205.0 L66.5,204.7 L67.5,204.5 L68.5,204.3 L69.5,204.2 L70.5,204.0 L71.5,203.8 L72.5,203.7 L73.5,203.5 L74.5,203.3 L75.5,203.2 L76.5,203.0 L77.5,202.8 L78.5,202.6 L79.5,202.4 L80.5,202.1 L81.5,201.9 L82.5,201.6 L83.5,201.3 L84.5,201.0 L85.5,200.7 L86.5,200.3 L87.5,199.9 L88.5,199.4 L89.5,198.9 L90.5,198.4 L91.5,197.8 L92.5,197.2 L93.5,196.5 L94.5,195.9 L95.5,195.1 L96.5,194.4 L97.5,193.6 L98.5,192.8 L99.5,192.0 L100.5,191.1 L101.5,190.2 L102.5,189.3 L103.5,188.4 L104.5,187.5 L105.5,186.5 L106.5,185.5 L107.5,184.5 L108.5,183.5 L109.5,182.5 L110.5,181.5 L111.5,180.5 L112.5,179.5 L113.5,178.4 L114.5,177.4 L115.5,176.3 L116.5,175.3 L117.5,174.2 L118.5,173.2 L119.5,172.1 L120.5,171.1 L121.5,170.0 L122.5,169.0 L123.5,167.9 L124.5,166.9 L125.5,165.8 L126.5,164.8 L127.5,163.8 L128.5,162.8 L129.5,161.8 L130.5,160.8 L131.5,159.8 L132.5,158.8 L133.5,157.8 L134.5,156.9 L135.5,155.9 L136.5,155.0 L137.5,154.0 L138.5,153.1 L139.5,152.2 L140.5,151.3 L141.5,150.4 L142.5,149.5 L143.5,148.7 L144.5,147.8 L145.5,146.9 L146.5,146.1 L147.5,145.3 L148.5,144.4 L149.5,143.6 L150.5,142.8 L151.5,142.0 L152.5,141.2 L153.5,140.5 L154.5,139.7 L155.5,139.0 L156.5,138.3 L157.5,137.6 L158.5,136.9 L159.5,136.2 L160.5,135.6 L161.5,135.0 L162.5,134.4 L163.5,133.8 L164.5,133.3 L165.5,132.8 L166.5,132.3 L167.5,131.9 L168.5,131.4 L169.5,131.0 L170.5,130.7 L171.5,130.4 L172.5,130.1 L173.5,129.8 L174.5,129.6 L175.5,129.4 L176.5,129.2 L177.5,129.1 L178.5,129.0 L179.5,128.9 L180.5,128.8 L181.5,128.8 L182.5,128.8 L183.5,128.8 L184.5,128.9 L185.5,128.9 L186.5,129.0 L187.5,129.1 L188.5,129.2 L189.5,129.4 L190.5,129.5 L191.5,129.7 L192.5,129.9 L193.5,130.1 L194.5,130.3 L195.5,130.5 L196.5,130.8 L197.5,131.0 L198.5,131.3 L199.5,131.6 L200.5,131.9 L201.5,132.2 L202.5,132.5 L203.5,132.9 L204.5,133.2 L205.5,133.6 L206.5,134.0 L207.5,134.4 L208.5,134.8 L209.5,135.2 L210.5,135.7 L211.5,136.2 L212.5,136.7 L213.5,137.2 L214.5,137.7 L215.5,138.2 L216.5,138.7 L217.5,139.2 L218.5,139.7 L219.5,140.2 L220.5,140.7 L221.5,141.2 L222.5,141.7 L223.5,142.2 L224.5,142.8 L225.5,143.3 L226.5,143.9 L227.5,144.4 L228.5,145.0 L229.5,145.6 L230.5,146.2 L231.5,146.9 L232.5,147.5 L233.5,148.1 L234.5,148.8 L235.5,149.5 L236.5,150.2 L237.5,150.8 L238.5,151.5 L239.5,152.2 L240.5,152.9 L241.5,153.6 L242.5,154.4 L243.5,155.1 L244.5,155.8 L245.5,156.5 L246.5,157.2 L247.5,157.9 L248.5,158.7 L249.5,159.4 L250.5,160.1 L251.5,160.8 L252.5,161.5 L253.5,162.2 L254.5,162.9 L255.5,163.5 L256.5,164.2 L257.5,164.9 L258.5,165.5 L259.5,166.2 L260.5,166.8 L261.5,167.5 L262.5,168.1 L263.5,168.7 L264.5,169.3 L265.5,169.9 L266.5,170.5 L267.5,171.1 L268.5,171.7 L269.5,172.2 L270.5,172.8 L271.5,173.4 L272.5,173.9 L273.5,174.5 L274.5,175.0 L275.5,175.6 L276.5,176.1 L277.5,176.6 L278.5,177.2 L279.5,177.7 L280.5,178.2 L281.5,178.7 L282.5,179.2 L283.5,179.7 L284.5,180.2 L285.5,180.7 L286.5,181.2 L287.5,181.6 L288.5,182.1 L289.5,182.6 L290.5,183.1 L291.5,183.5 L292.5,184.0 L293.5,184.5 L294.5,184.9 L295.5,185.4 L296.5,185.8 L297.5,186.3 L298.5,186.7 L299.5,187.1 L300.5,187.6 L301.5,188.0 L302.5,188.5 L303.5,188.9 L304.5,189.3 L305.5,189.7 L306.5,190.2 L307.5,190.6 L308.5,191.0 L309.5,191.4 L310.5,191.9 L311.5,192.3 L312.5,192.7 L313.5,193.1 L314.5,193.5 L315.5,193.9 L316.5,194.4 L317.5,194.8 L318.5,195.2 L319.5,195.6 L320.5,196.0 L321.5,196.4 L322.5,196.9 L323.5,197.3 L323.6,197.3" stroke="#901a55"/>
<path d="M65.5,198.2 L66.5,198.2 L67.5,198.2 L68.5,198.1 L69.5,198.1 L70.5,198.0 L71.5,197.9 L72.5,197.7 L73.5,197.6 L74.5,197.4 L75.5,197.2 L76.5,197.0 L77.5,196.8 L78.5,196.5 L79.5,196.2 L80.5,195.9 L81.5,195.6 L82.5,195.3 L83.5,194.9 L84.5,194.5 L85.5,194.1 L86.5,193.7 L87.5,193.3 L88.5,192.8 L89.5,192.3 L90.5,191.8 L91.5,191.2 L92.5,190.7 L93.5,190.1 L94.5,189.5 L95.5,188.9 L96.5,188.2 L97.5,187.5 L98.5,186.8 L99.5,186.1 L100.5,185.4 L101.5,184.6 L102.5,183.8 L103.5,183.0 L104.5,182.1 L105.5,181.3 L106.5,180.4 L107.5,179.5 L108.5,178.5 L109.5,177.6 L110.5,176.6 L111.5,175.6 L112.5,174.5 L113.5,173.5 L114.5,172.4 L115.5,171.3 L116.5,170.2 L117.5,169.1 L118.5,168.0 L119.5,166.8 L120.5,165.7 L121.5,164.5 L122.5,163.3 L123.5,162.1 L124.5,160.9 L125.5,159.7 L126.5,158.5 L127.5,157.3 L128.5,156.1 L129.5,154.9 L130.5,153.7 L131.5,152.5 L132.5,151.3 L133.5,150.1 L134.5,148.9 L135.5,147.7 L136.5,146.5 L137.5,145.4 L138.5,144.2 L139.5,143.1 L140.5,141.9 L141.5,140.8 L142.5,139.7 L143.5,138.6 L144.5,137.5 L145.5,136.5 L146.5,135.5 L147.5,134.5 L148.5,133.5 L149.5,132.5 L150.5,131.6 L151.5,130.7 L152.5,129.8 L153.5,128.9 L154.5,128.0 L155.5,127.2 L156.5,126.4 L157.5,125.6 L158.5,124.8 L159.5,124.1 L160.5,123.4 L161.5,122.6 L162.5,122.0 L163.5,121.3 L164.5,120.7 L165.5,120.0 L166.5,119.4 L167.5,118.9 L168.5,118.3 L169.5,117.8 L170.5,117.3 L171.5,116.8 L172.5,116.3 L173.5,115.9 L174.5,115.5 L175.5,115.1 L176.5,114.8 L177.5,114.5 L178.5,114.2 L179.5,113.9 L180.5,113.7 L181.5,113.5 L182.5,113.4 L183.5,113.2 L184.5,113.1 L185.5,113.0 L186.5,113.0 L187.5,113.0 L188.5,113.0 L189.5,113.0 L190.5,113.0 L191.5,113.1 L192.5,113.2 L193.5,113.3 L194.5,113.5 L195.5,113.7 L196.5,113.9 L197.5,114.1 L198.5,114.3 L199.5,114.5 L200.5,114.8 L201.5,115.1 L202.5,115.4 L203.5,115.7 L204.5,116.1 L205.5,116.4 L206.5,116.8 L207.5,117.2 L208.5,117.6 L209.5,118.1 L210.5,118.5 L211.5,119.0 L212.5,119.4 L213.5,119.9 L214.5,120.5 L215.5,121.0 L216.5,121.5 L217.5,122.1 L218.5,122.7 L219.5,123.3 L220.5,123.9 L221.5,124.5 L222.5,125.1 L223.5,125.8 L224.5,126.4 L225.5,127.1 L226.5,127.8 L227.5,128.4 L228.5,129.1 L229.5,129.8 L230.5,130.6 L231.5,131.3 L232.5,132.0 L233.5,132.7 L234.5,133.5 L235.5,134.2 L236.5,135.0 L237.5,135.7 L238.5,136.5 L239.5,137.3 L240.5,138.0 L241.5,138.8 L242.5,139.6 L243.5,140.4 L244.5,141.1 L245.5,141.9 L246.5,142.7 L247.5,143.5 L248.5,144.2 L249.5,145.0 L250.5,145.8 L251.5,146.6 L252.5,147.3 L253.5,148.1 L254.5,148.8 L255.5,149.6 L256.5,150.4 L257.5,151.1 L258.5,151.8 L259.5,152.6 L260.5,153.3 L261.5,154.0 L262.5,154.8 L263.5,155.5 L264.5,156.2 L265.5,156.9 L266.5,157.6 L267.5,158.3 L268.5,159.0 L269.5,159.7 L270.5,160.4 L271.5,161.1 L272.5,161.7 L273.5,162.4 L274.5,163.1 L275.5,163.8 L276.5,164.4 L277.5,165.1 L278.5,165.7 L279.5,166.4 L280.5,167.0 L281.5,167.6 L282.5,168.3 L283.5,168.9 L284.5,169.5 L285.5,170.2 L286.5,170.8 L287.5,171.4 L288.5,172.0 L289.5,172.6 L290.5,173.2 L291.5,173.8 L292.5,174.4 L293.5,175.0 L294.5,175.5 L295.5,176.1 L296.5,176.7 L297.5,177.3 L298.5,177.8 L299.5,178.4 L300.5,178.9 L301.5,179.5 L302.5,180.0 L303.5,180.6 L304.5,181.1 L305.5,181.7 L306.5,182.2 L307.5,182.7 L308.5,183.2 L309.5,183.8 L310.5,184.3 L311.5,184.8 L312.5,185.3 L313.5,185.8 L314.5,186.3 L315.5,186.8 L316.5,187.3 L317.5,187.8 L318.5,188.2 L319.5,188.7 L320.5,189.2 L321.5,189.7 L322.5,190.1 L323.5,190.6 L323.6,190.6" stroke="#878728"/>
<path d="M65.5,196.4 L66.5,195.9 L67.5,195.5 L68.5,195.0 L69.5,194.4 L70.5,193.9 L71.5,193.4 L72.5,192.8 L73.5,192.2 L74.5,191.6 L75.5,190.9 L76.5,190.2 L77.5,189.5 L78.5,188.8 L79.5,188.1 L80.5,187.3 L81.5,186.5 L82.5,185.6 L83.5,184.7 L84.5,183.8 L85.5,182.9 L86.5,181.9 L87.5,180.9 L88.5,179.8 L89.5,178.7 L90.5,177.6 L91.5,176.4 L92.5,175.1 L93.5,173.8 L94.5,172.5 L95.5,171.1 L96.5,169.7 L97.5,168.1 L98.5,166.5 L99.5,164.9 L100.5,163.1 L101.5,161.3 L102.5,159.4 L103.5,157.5 L104.5,155.4 L105.5,153.3 L106.5,151.0 L107.5,148.8 L108.5,146.4 L109.5,144.1 L110.5,141.6 L111.5,139.2 L112.5,136.7 L113.5,134.2 L114.5,131.7 L115.5,129.2 L116.5,126.7 L117.5,124.3 L118.5,121.8 L119.5,119.4 L120.5,117.0 L121.5,114.7 L122.5,112.4 L123.5,110.1 L124.5,107.9 L125.5,105.7 L126.5,103.6 L127.5,101.5 L128.5,99.4 L129.5,97.3 L130.5,95.3 L131.5,93.3 L132.5,91.3 L133.5,89.3 L134.5,87.4 L135.5,85.5 L136.5,83.6 L137.5,81.7 L138.5,79.8 L139.5,78.0 L140.5,76.1 L141.5,74.3 L142.5,72.5 L143.5,70.8 L144.5,69.0 L145.5,67.4 L146.5,65.7 L147.5,64.1 L148.5,62.5 L149.5,61.0 L150.5,59.6 L151.5,58.2 L152.5,56.8 L153.5,55.5 L154.5,54.3 L155.5,53.1 L156.5,51.9 L157.5,50.8 L158.5,49.6 L159.5,48.4 L160.5,47.2 L161.5,46.0 L162.5,44.8 L163.5,43.5 L164.5,42.2 L165.5,41.0 L166.5,39.8 L167.5,38.7 L168.5,37.7 L169.5,36.8 L170.5,36.1 L171.5,35.5 L172.5,35.1 L173.5,34.8 L174.5,34.6 L175.5,34.6 L176.5,34.7 L177.5,34.8 L178.5,35.1 L179.5,35.4 L180.5,35.7 L181.5,36.0 L182.5,36.4 L183.5,36.6 L184.5,36.9 L185.5,37.1 L186.5,37.2 L187.5,37.4 L188.5,37.5 L189.5,37.7 L190.5,37.8 L191.5,38.0 L192.5,38.2 L193.5,38.4 L194.5,38.6 L195.5,38.9 L196.5,39.2 L197.5,39.5 L198.5,39.9 L199.5,40.4 L200.5,40.9 L201.5,41.5 L202.5,42.1 L203.5,42.9 L204.5,43.6 L205.5,44.5 L206.5,45.5 L207.5,46.5 L208.5,47.6 L209.5,48.9 L210.5,50.2 L211.5,51.6 L212.5,53.1 L213.5,54.6 L214.5,56.2 L215.5,57.7 L216.5,59.3 L217.5,60.9 L218.5,62.4 L219.5,63.9 L220.5,65.3 L221.5,66.7 L222.5,68.1 L223.5,69.4 L224.5,70.7 L225.5,71.9 L226.5,73.1 L227.5,74.3 L228.5,75.5 L229.5,76.6 L230.5,77.7 L231.5,78.8 L232.5,79.8 L233.5,80.9 L234.5,82.0 L235.5,83.0 L236.5,84.1 L237.5,85.1 L238.5,86.2 L239.5,87.3 L240.5,88.4 L241.5,89.5 L242.5,90.6 L243.5,91.8 L244.5,92.9 L245.5,94.1 L246.5,95.3 L247.5,96.6 L248.5,97.8 L249.5,99.1 L250.5,100.4 L251.5,101.7 L252.5,103.0 L253.5,104.4 L254.5,105.7 L255.5,107.1 L256.5,108.5 L257.5,109.9 L258.5,111.4 L259.5,112.8 L260.5,114.3 L261.5,115.8 L262.5,117.3 L263.5,118.9 L264.5,120.4 L265.5,122.0 L266.5,123.6 L267.5,125.1 L268.5,126.6 L269.5,128.1 L270.5,129.4 L271.5,130.7 L272.5,131.9 L273.5,133.1 L274.5,134.2 L275.5,135.3 L276.5,136.4 L277.5,137.5 L278.5,138.6 L279.5,139.7 L280.5,140.8 L281.5,141.9 L282.5,143.0 L283.5,144.1 L284.5,145.1 L285.5,146.1 L286.5,147.2 L287.5,148.2 L288.5,149.2 L289.5,150.2 L290.5,151.2 L291.5,152.1 L292.5,153.0 L293.5,154.0 L294.5,154.9 L295.5,155.8 L296.5,156.7 L297.5,157.5 L298.5,158.4 L299.5,159.2 L300.5,160.1 L301.5,160.9 L302.5,161.7 L303.5,162.5 L304.5,163.3 L305.5,164.1 L306.5,164.9 L307.5,165.7 L308.5,166.4 L309.5,167.2 L310.5,167.9 L311.5,168.7 L312.5,169.4 L313.5,170.2 L314.5,170.9 L315.5,171.7 L316.5,172.4 L317.5,173.1 L318.5,173.8 L319.5,174.6 L320.5,175.3 L321.5,176.0 L322.5,176.8 L323.5,177.5 L323.6,177.6" stroke="#3370b0"/>
</g>
<g stroke="#5a5a5a" stroke-width="1.5" fill="none">
<path d="M65.6,20 V221.3 H324.5"/>
<line x1="61" y1="215.50" x2="65" y2="215.50"/>
<text x="59.3" y="218.90" class="ta" text-anchor="end">0</text>
<line x1="61" y1="166.75" x2="65" y2="166.75"/>
<text x="59.3" y="170.15" class="ta" text-anchor="end">40000</text>
<line x1="61" y1="118.00" x2="65" y2="118.00"/>
<text x="59.3" y="121.40" class="ta" text-anchor="end">80000</text>
<line x1="61" y1="69.25" x2="65" y2="69.25"/>
<text x="59.3" y="72.65" class="ta" text-anchor="end">120000</text>
<line x1="61" y1="20.50" x2="65" y2="20.50"/>
<text x="59.3" y="23.90" class="ta" text-anchor="end">160000</text>
<line x1="63" y1="191.12" x2="65" y2="191.12"/>
<line x1="63" y1="142.38" x2="65" y2="142.38"/>
<line x1="63" y1="93.62" x2="65" y2="93.62"/>
<line x1="63" y1="44.88" x2="65" y2="44.88"/>
<line x1="111.21" y1="221" x2="111.21" y2="225.5"/>
<text x="111.21" y="236.8" class="ta" text-anchor="middle">480</text>
<line x1="172.15" y1="221" x2="172.15" y2="225.5"/>
<text x="172.15" y="236.8" class="ta" text-anchor="middle">520</text>
<line x1="233.09" y1="221" x2="233.09" y2="225.5"/>
<text x="233.09" y="236.8" class="ta" text-anchor="middle">560</text>
<line x1="294.02" y1="221" x2="294.02" y2="225.5"/>
<text x="294.02" y="236.8" class="ta" text-anchor="middle">600</text>
<line x1="80.73" y1="221" x2="80.73" y2="223.5"/>
<line x1="141.68" y1="221" x2="141.68" y2="223.5"/>
<line x1="202.62" y1="221" x2="202.62" y2="223.5"/>
<line x1="263.56" y1="221" x2="263.56" y2="223.5"/>
<line x1="324.50" y1="221" x2="324.50" y2="223.5"/>
</g>
<polygon fill="#16af50" points="278.2,46.2 284.95,53.5 281.7,53.5 281.7,99.7 274.7,99.7 274.7,53.5 271.45,53.5"/>
<text class="cal" x="269.3" y="42" style="font-size:17px">99%</text>
<text class="cal" x="287.3" y="89.3" style="font-size:18.1px">DMSO</text>
<text class="cal" x="272.8" y="121" style="font-size:16.6px">0 %</text>
<!-- panel b -->
<text class="lab" transform="translate(2.2,258.6) scale(1,1.06)" style="font-size:18.2px">(b)</text>
<text transform="translate(12.9,355.5) rotate(-90)" text-anchor="middle" style="font-size:13.35px">Fluorescence intensity (a.u.)</text>
<text x="194.2" y="507.4" text-anchor="middle" style="font-size:13.8px">Wavelength (nm)</text>
<g fill="none" stroke-width="1.15" stroke-linejoin="round">
<path d="M65.5,465.1 L66.5,465.1 L67.5,465.0 L68.5,465.0 L69.5,464.9 L70.5,464.9 L71.5,464.8 L72.5,464.8 L73.5,464.7 L74.5,464.6 L75.5,464.6 L76.5,464.5 L77.5,464.4 L78.5,464.4 L79.5,464.3 L80.5,464.2 L81.5,464.2 L82.5,464.1 L83.5,464.0 L84.5,463.9 L85.5,463.8 L86.5,463.7 L87.5,463.6 L88.5,463.5 L89.5,463.4 L90.5,463.3 L91.5,463.2 L92.5,463.0 L93.5,462.9 L94.5,462.8 L95.5,462.6 L96.5,462.5 L97.5,462.3 L98.5,462.1 L99.5,462.0 L100.5,461.8 L101.5,461.6 L102.5,461.4 L103.5,461.2 L104.5,461.0 L105.5,460.7 L106.5,460.5 L107.5,460.3 L108.5,460.0 L109.5,459.8 L110.5,459.5 L111.5,459.2 L112.5,459.0 L113.5,458.7 L114.5,458.5 L115.5,458.3 L116.5,458.0 L117.5,457.8 L118.5,457.6 L119.5,457.5 L120.5,457.3 L121.5,457.2 L122.5,457.1 L123.5,457.0 L124.5,456.9 L125.5,456.8 L126.5,456.8 L127.5,456.8 L128.5,456.7 L129.5,456.7 L130.5,456.7 L131.5,456.7 L132.5,456.8 L133.5,456.8 L134.5,456.8 L135.5,456.9 L136.5,457.0 L137.5,457.0 L138.5,457.1 L139.5,457.2 L140.5,457.2 L141.5,457.3 L142.5,457.4 L143.5,457.5 L144.5,457.6 L145.5,457.7 L146.5,457.7 L147.5,457.8 L148.5,457.9 L149.5,458.0 L150.5,458.1 L151.5,458.2 L152.5,458.2 L153.5,458.3 L154.5,458.4 L155.5,458.5 L156.5,458.6 L157.5,458.6 L158.5,458.7 L159.5,458.8 L160.5,458.9 L161.5,458.9 L162.5,459.0 L163.5,459.1 L164.5,459.2 L165.5,459.2 L166.5,459.3 L167.5,459.4 L168.5,459.5 L169.5,459.5 L170.5,459.6 L171.5,459.7 L172.5,459.8 L173.5,459.8 L174.5,459.9 L175.5,460.0 L176.5,460.0 L177.5,460.1 L178.5,460.2 L179.5,460.2 L180.5,460.3 L181.5,460.4 L182.5,460.4 L183.5,460.5 L184.5,460.6 L185.5,460.6 L186.5,460.7 L187.5,460.8 L188.5,460.8 L189.5,460.9 L190.5,461.0 L191.5,461.0 L192.5,461.1 L193.5,461.1 L194.5,461.2 L195.5,461.3 L196.5,461.3 L197.5,461.4 L198.5,461.4 L199.5,461.5 L200.5,461.6 L201.5,461.6 L202.5,461.7 L203.5,461.7 L204.5,461.8 L205.5,461.8 L206.5,461.9 L207.5,461.9 L208.5,462.0 L209.5,462.0 L210.5,462.1 L211.5,462.1 L212.5,462.2 L213.5,462.2 L214.5,462.3 L215.5,462.3 L216.5,462.4 L217.5,462.4 L218.5,462.5 L219.5,462.5 L220.5,462.6 L221.5,462.6 L222.5,462.7 L223.5,462.7 L224.5,462.7 L225.5,462.8 L226.5,462.8 L227.5,462.9 L228.5,462.9 L229.5,462.9 L230.5,463.0 L231.5,463.0 L232.5,463.1 L233.5,463.1 L234.5,463.1 L235.5,463.2 L236.5,463.2 L237.5,463.2 L238.5,463.3 L239.5,463.3 L240.5,463.3 L241.5,463.4 L242.5,463.4 L243.5,463.4 L244.5,463.5 L245.5,463.5 L246.5,463.5 L247.5,463.5 L248.5,463.6 L249.5,463.6 L250.5,463.6 L251.5,463.6 L252.5,463.7 L253.5,463.7 L254.5,463.7 L255.5,463.7 L256.5,463.8 L257.5,463.8 L258.5,463.8 L259.5,463.8 L260.5,463.8 L261.5,463.9 L262.5,463.9 L263.5,463.9 L264.5,463.9 L265.5,463.9 L266.5,463.9 L267.5,464.0 L268.5,464.0 L269.5,464.0 L270.5,464.0 L271.5,464.0 L272.5,464.0 L273.5,464.0 L274.5,464.0 L275.5,464.0 L276.5,464.0 L277.5,464.0 L278.5,464.0 L279.5,464.1 L280.5,464.1 L281.5,464.1 L282.5,464.1 L283.5,464.1 L284.5,464.1 L285.5,464.1 L286.5,464.1 L287.5,464.1 L288.5,464.1 L289.5,464.1 L290.5,464.1 L291.5,464.0 L292.5,464.0 L293.5,464.0 L294.5,464.0 L295.5,464.0 L296.5,464.0 L297.5,464.0 L298.5,464.0 L299.5,464.0 L300.5,464.0 L301.5,464.0 L302.5,463.9 L303.5,463.9 L304.5,463.9 L305.5,463.9 L306.5,463.9 L307.5,463.9 L308.5,463.8 L309.5,463.8 L310.5,463.8 L311.5,463.8 L312.5,463.8 L313.5,463.7 L314.5,463.7 L315.5,463.7 L316.5,463.7 L317.5,463.6 L318.5,463.6 L319.5,463.6 L320.5,463.6 L321.5,463.5 L322.5,463.5 L323.0,463.5" stroke="#2e2e2e"/>
<path d="M65.5,464.5 L66.5,464.2 L67.5,464.0 L68.5,463.8 L69.5,463.6 L70.5,463.4 L71.5,463.3 L72.5,463.1 L73.5,463.0 L74.5,462.8 L75.5,462.7 L76.5,462.5 L77.5,462.4 L78.5,462.3 L79.5,462.1 L80.5,462.0 L81.5,461.9 L82.5,461.7 L83.5,461.6 L84.5,461.4 L85.5,461.3 L86.5,461.1 L87.5,461.0 L88.5,460.8 L89.5,460.6 L90.5,460.4 L91.5,460.2 L92.5,460.0 L93.5,459.8 L94.5,459.6 L95.5,459.3 L96.5,459.0 L97.5,458.8 L98.5,458.5 L99.5,458.1 L100.5,457.8 L101.5,457.5 L102.5,457.1 L103.5,456.8 L104.5,456.4 L105.5,456.1 L106.5,455.7 L107.5,455.4 L108.5,455.0 L109.5,454.6 L110.5,454.3 L111.5,453.9 L112.5,453.6 L113.5,453.3 L114.5,453.0 L115.5,452.6 L116.5,452.4 L117.5,452.1 L118.5,451.8 L119.5,451.6 L120.5,451.4 L121.5,451.2 L122.5,451.0 L123.5,450.9 L124.5,450.8 L125.5,450.7 L126.5,450.6 L127.5,450.6 L128.5,450.6 L129.5,450.7 L130.5,450.7 L131.5,450.8 L132.5,450.9 L133.5,451.0 L134.5,451.1 L135.5,451.2 L136.5,451.3 L137.5,451.5 L138.5,451.6 L139.5,451.8 L140.5,451.9 L141.5,452.1 L142.5,452.2 L143.5,452.4 L144.5,452.5 L145.5,452.7 L146.5,452.8 L147.5,452.9 L148.5,453.0 L149.5,453.1 L150.5,453.3 L151.5,453.4 L152.5,453.5 L153.5,453.6 L154.5,453.7 L155.5,453.8 L156.5,453.9 L157.5,454.0 L158.5,454.1 L159.5,454.2 L160.5,454.3 L161.5,454.4 L162.5,454.5 L163.5,454.7 L164.5,454.8 L165.5,454.9 L166.5,455.1 L167.5,455.2 L168.5,455.4 L169.5,455.5 L170.5,455.7 L171.5,455.9 L172.5,456.1 L173.5,456.3 L174.5,456.5 L175.5,456.7 L176.5,456.9 L177.5,457.1 L178.5,457.3 L179.5,457.5 L180.5,457.7 L181.5,457.9 L182.5,458.1 L183.5,458.3 L184.5,458.5 L185.5,458.6 L186.5,458.8 L187.5,458.9 L188.5,459.1 L189.5,459.2 L190.5,459.4 L191.5,459.5 L192.5,459.7 L193.5,459.8 L194.5,459.9 L195.5,460.0 L196.5,460.1 L197.5,460.2 L198.5,460.4 L199.5,460.5 L200.5,460.6 L201.5,460.7 L202.5,460.7 L203.5,460.8 L204.5,460.9 L205.5,461.0 L206.5,461.1 L207.5,461.1 L208.5,461.2 L209.5,461.3 L210.5,461.4 L211.5,461.4 L212.5,461.5 L213.5,461.5 L214.5,461.6 L215.5,461.6 L216.5,461.7 L217.5,461.7 L218.5,461.8 L219.5,461.8 L220.5,461.9 L221.5,461.9 L222.5,461.9 L223.5,462.0 L224.5,462.0 L225.5,462.0 L226.5,462.0 L227.5,462.1 L228.5,462.1 L229.5,462.1 L230.5,462.1 L231.5,462.1 L232.5,462.2 L233.5,462.2 L234.5,462.2 L235.5,462.2 L236.5,462.2 L237.5,462.2 L238.5,462.2 L239.5,462.2 L240.5,462.2 L241.5,462.2 L242.5,462.2 L243.5,462.2 L244.5,462.2 L245.5,462.2 L246.5,462.2 L247.5,462.2 L248.5,462.2 L249.5,462.2 L250.5,462.2 L251.5,462.2 L252.5,462.2 L253.5,462.2 L254.5,462.1 L255.5,462.1 L256.5,462.1 L257.5,462.1 L258.5,462.1 L259.5,462.1 L260.5,462.1 L261.5,462.0 L262.5,462.0 L263.5,462.0 L264.5,462.0 L265.5,462.0 L266.5,462.0 L267.5,462.0 L268.5,461.9 L269.5,461.9 L270.5,461.9 L271.5,461.9 L272.5,461.9 L273.5,461.9 L274.5,461.8 L275.5,461.8 L276.5,461.8 L277.5,461.8 L278.5,461.8 L279.5,461.8 L280.5,461.8 L281.5,461.8 L282.5,461.7 L283.5,461.7 L284.5,461.7 L285.5,461.7 L286.5,461.7 L287.5,461.7 L288.5,461.7 L289.5,461.7 L290.5,461.7 L291.5,461.7 L292.5,461.7 L293.5,461.7 L294.5,461.7 L295.5,461.7 L296.5,461.7 L297.5,461.7 L298.5,461.7 L299.5,461.7 L300.5,461.7 L301.5,461.7 L302.5,461.8 L303.5,461.8 L304.5,461.8 L305.5,461.8 L306.5,461.8 L307.5,461.9 L308.5,461.9 L309.5,461.9 L310.5,461.9 L311.5,462.0 L312.5,462.0 L313.5,462.0 L314.5,462.1 L315.5,462.1 L316.5,462.2 L317.5,462.2 L318.5,462.3 L319.5,462.3 L320.5,462.4 L321.5,462.4 L322.5,462.5 L323.0,462.5" stroke="#e0307a"/>
<path d="M65.5,463.5 L66.5,463.5 L67.5,463.4 L68.5,463.2 L69.5,463.0 L70.5,462.8 L71.5,462.5 L72.5,462.1 L73.5,461.8 L74.5,461.3 L75.5,460.9 L76.5,460.4 L77.5,459.9 L78.5,459.4 L79.5,458.9 L80.5,458.3 L81.5,457.8 L82.5,457.3 L83.5,456.8 L84.5,456.3 L85.5,455.8 L86.5,455.3 L87.5,454.8 L88.5,454.4 L89.5,454.0 L90.5,453.7 L91.5,453.3 L92.5,452.9 L93.5,452.6 L94.5,452.3 L95.5,451.9 L96.5,451.6 L97.5,451.2 L98.5,450.9 L99.5,450.5 L100.5,450.1 L101.5,449.6 L102.5,449.2 L103.5,448.7 L104.5,448.2 L105.5,447.6 L106.5,447.0 L107.5,446.3 L108.5,445.6 L109.5,444.9 L110.5,444.2 L111.5,443.5 L112.5,442.9 L113.5,442.3 L114.5,441.8 L115.5,441.4 L116.5,441.1 L117.5,440.9 L118.5,440.8 L119.5,440.8 L120.5,440.8 L121.5,440.8 L122.5,440.9 L123.5,441.1 L124.5,441.3 L125.5,441.5 L126.5,441.8 L127.5,442.0 L128.5,442.3 L129.5,442.6 L130.5,442.9 L131.5,443.2 L132.5,443.6 L133.5,443.8 L134.5,444.1 L135.5,444.4 L136.5,444.6 L137.5,444.8 L138.5,445.0 L139.5,445.2 L140.5,445.3 L141.5,445.5 L142.5,445.6 L143.5,445.7 L144.5,445.8 L145.5,445.9 L146.5,445.9 L147.5,446.0 L148.5,446.0 L149.5,446.1 L150.5,446.1 L151.5,446.2 L152.5,446.2 L153.5,446.3 L154.5,446.3 L155.5,446.4 L156.5,446.5 L157.5,446.5 L158.5,446.6 L159.5,446.7 L160.5,446.8 L161.5,446.9 L162.5,447.0 L163.5,447.2 L164.5,447.4 L165.5,447.6 L166.5,447.8 L167.5,448.0 L168.5,448.2 L169.5,448.5 L170.5,448.8 L171.5,449.2 L172.5,449.5 L173.5,449.9 L174.5,450.3 L175.5,450.7 L176.5,451.1 L177.5,451.5 L178.5,451.9 L179.5,452.2 L180.5,452.6 L181.5,452.9 L182.5,453.3 L183.5,453.6 L184.5,453.8 L185.5,454.1 L186.5,454.4 L187.5,454.6 L188.5,454.8 L189.5,455.0 L190.5,455.2 L191.5,455.4 L192.5,455.6 L193.5,455.8 L194.5,455.9 L195.5,456.1 L196.5,456.2 L197.5,456.4 L198.5,456.5 L199.5,456.7 L200.5,456.8 L201.5,456.9 L202.5,457.0 L203.5,457.1 L204.5,457.3 L205.5,457.4 L206.5,457.5 L207.5,457.6 L208.5,457.7 L209.5,457.8 L210.5,457.9 L211.5,457.9 L212.5,458.0 L213.5,458.1 L214.5,458.2 L215.5,458.3 L216.5,458.4 L217.5,458.4 L218.5,458.5 L219.5,458.6 L220.5,458.6 L221.5,458.7 L222.5,458.7 L223.5,458.8 L224.5,458.9 L225.5,458.9 L226.5,459.0 L227.5,459.0 L228.5,459.1 L229.5,459.1 L230.5,459.1 L231.5,459.2 L232.5,459.2 L233.5,459.3 L234.5,459.3 L235.5,459.3 L236.5,459.3 L237.5,459.4 L238.5,459.4 L239.5,459.4 L240.5,459.5 L241.5,459.5 L242.5,459.5 L243.5,459.5 L244.5,459.5 L245.5,459.5 L246.5,459.6 L247.5,459.6 L248.5,459.6 L249.5,459.6 L250.5,459.6 L251.5,459.6 L252.5,459.6 L253.5,459.6 L254.5,459.7 L255.5,459.7 L256.5,459.7 L257.5,459.7 L258.5,459.7 L259.5,459.7 L260.5,459.7 L261.5,459.7 L262.5,459.7 L263.5,459.7 L264.5,459.7 L265.5,459.7 L266.5,459.7 L267.5,459.7 L268.5,459.7 L269.5,459.7 L270.5,459.7 L271.5,459.7 L272.5,459.7 L273.5,459.7 L274.5,459.7 L275.5,459.7 L276.5,459.7 L277.5,459.7 L278.5,459.7 L279.5,459.7 L280.5,459.8 L281.5,459.8 L282.5,459.8 L283.5,459.8 L284.5,459.8 L285.5,459.8 L286.5,459.8 L287.5,459.8 L288.5,459.8 L289.5,459.8 L290.5,459.9 L291.5,459.9 L292.5,459.9 L293.5,459.9 L294.5,459.9 L295.5,460.0 L296.5,460.0 L297.5,460.0 L298.5,460.0 L299.5,460.1 L300.5,460.1 L301.5,460.1 L302.5,460.1 L303.5,460.2 L304.5,460.2 L305.5,460.3 L306.5,460.3 L307.5,460.3 L308.5,460.4 L309.5,460.4 L310.5,460.5 L311.5,460.5 L312.5,460.6 L313.5,460.6 L314.5,460.7 L315.5,460.8 L316.5,460.8 L317.5,460.9 L318.5,461.0 L319.5,461.0 L320.5,461.1 L321.5,461.2 L322.5,461.3 L323.0,461.3" stroke="#2e2ec0"/>
<path d="M65.5,462.5 L66.5,462.7 L67.5,462.7 L68.5,462.6 L69.5,462.4 L70.5,462.1 L71.5,461.7 L72.5,461.3 L73.5,460.7 L74.5,460.0 L75.5,459.3 L76.5,458.5 L77.5,457.7 L78.5,456.8 L79.5,455.9 L80.5,454.9 L81.5,453.9 L82.5,452.9 L83.5,451.8 L84.5,450.8 L85.5,449.7 L86.5,448.7 L87.5,447.6 L88.5,446.6 L89.5,445.6 L90.5,444.6 L91.5,443.7 L92.5,442.8 L93.5,441.9 L94.5,441.1 L95.5,440.2 L96.5,439.4 L97.5,438.5 L98.5,437.6 L99.5,436.6 L100.5,435.7 L101.5,434.7 L102.5,433.7 L103.5,432.7 L104.5,431.6 L105.5,430.6 L106.5,429.6 L107.5,428.6 L108.5,427.6 L109.5,426.7 L110.5,425.8 L111.5,424.9 L112.5,424.1 L113.5,423.4 L114.5,422.8 L115.5,422.3 L116.5,421.9 L117.5,421.6 L118.5,421.5 L119.5,421.5 L120.5,421.6 L121.5,421.9 L122.5,422.3 L123.5,422.8 L124.5,423.4 L125.5,424.0 L126.5,424.7 L127.5,425.4 L128.5,426.1 L129.5,426.9 L130.5,427.5 L131.5,428.2 L132.5,428.8 L133.5,429.2 L134.5,429.6 L135.5,430.0 L136.5,430.2 L137.5,430.4 L138.5,430.6 L139.5,430.8 L140.5,430.9 L141.5,431.0 L142.5,431.1 L143.5,431.1 L144.5,431.3 L145.5,431.4 L146.5,431.5 L147.5,431.7 L148.5,431.9 L149.5,432.2 L150.5,432.5 L151.5,432.8 L152.5,433.1 L153.5,433.5 L154.5,433.9 L155.5,434.3 L156.5,434.7 L157.5,435.1 L158.5,435.5 L159.5,436.0 L160.5,436.4 L161.5,436.9 L162.5,437.4 L163.5,437.8 L164.5,438.3 L165.5,438.8 L166.5,439.2 L167.5,439.7 L168.5,440.1 L169.5,440.6 L170.5,441.0 L171.5,441.5 L172.5,441.9 L173.5,442.3 L174.5,442.7 L175.5,443.1 L176.5,443.5 L177.5,443.9 L178.5,444.3 L179.5,444.6 L180.5,445.0 L181.5,445.4 L182.5,445.7 L183.5,446.0 L184.5,446.4 L185.5,446.7 L186.5,447.0 L187.5,447.3 L188.5,447.6 L189.5,447.9 L190.5,448.2 L191.5,448.5 L192.5,448.7 L193.5,449.0 L194.5,449.3 L195.5,449.5 L196.5,449.8 L197.5,450.0 L198.5,450.3 L199.5,450.5 L200.5,450.7 L201.5,450.9 L202.5,451.2 L203.5,451.4 L204.5,451.6 L205.5,451.8 L206.5,452.0 L207.5,452.2 L208.5,452.4 L209.5,452.5 L210.5,452.7 L211.5,452.9 L212.5,453.1 L213.5,453.2 L214.5,453.4 L215.5,453.6 L216.5,453.7 L217.5,453.9 L218.5,454.1 L219.5,454.2 L220.5,454.4 L221.5,454.5 L222.5,454.6 L223.5,454.8 L224.5,454.9 L225.5,455.1 L226.5,455.2 L227.5,455.3 L228.5,455.5 L229.5,455.6 L230.5,455.7 L231.5,455.8 L232.5,455.9 L233.5,456.0 L234.5,456.2 L235.5,456.3 L236.5,456.4 L237.5,456.5 L238.5,456.6 L239.5,456.7 L240.5,456.8 L241.5,456.9 L242.5,457.0 L243.5,457.0 L244.5,457.1 L245.5,457.2 L246.5,457.3 L247.5,457.4 L248.5,457.5 L249.5,457.5 L250.5,457.6 L251.5,457.7 L252.5,457.8 L253.5,457.8 L254.5,457.9 L255.5,458.0 L256.5,458.0 L257.5,458.1 L258.5,458.2 L259.5,458.2 L260.5,458.3 L261.5,458.3 L262.5,458.4 L263.5,458.4 L264.5,458.5 L265.5,458.5 L266.5,458.6 L267.5,458.6 L268.5,458.7 L269.5,458.7 L270.5,458.8 L271.5,458.8 L272.5,458.9 L273.5,458.9 L274.5,459.0 L275.5,459.0 L276.5,459.0 L277.5,459.1 L278.5,459.1 L279.5,459.1 L280.5,459.2 L281.5,459.2 L282.5,459.2 L283.5,459.3 L284.5,459.3 L285.5,459.3 L286.5,459.4 L287.5,459.4 L288.5,459.4 L289.5,459.5 L290.5,459.5 L291.5,459.5 L292.5,459.5 L293.5,459.6 L294.5,459.6 L295.5,459.6 L296.5,459.7 L297.5,459.7 L298.5,459.7 L299.5,459.7 L300.5,459.8 L301.5,459.8 L302.5,459.8 L303.5,459.8 L304.5,459.9 L305.5,459.9 L306.5,459.9 L307.5,459.9 L308.5,460.0 L309.5,460.0 L310.5,460.0 L311.5,460.0 L312.5,460.1 L313.5,460.1 L314.5,460.1 L315.5,460.2 L316.5,460.2 L317.5,460.2 L318.5,460.2 L319.5,460.3 L320.5,460.3 L321.5,460.3 L322.5,460.4 L323.0,460.4" stroke="#22905a"/>
<path d="M65.5,461.5 L66.5,460.0 L67.5,458.9 L68.5,458.1 L69.5,457.6 L70.5,457.3 L71.5,457.1 L72.5,457.1 L73.5,457.2 L74.5,457.3 L75.5,457.3 L76.5,457.3 L77.5,457.1 L78.5,456.8 L79.5,456.2 L80.5,455.3 L81.5,454.1 L82.5,452.5 L83.5,450.5 L84.5,448.0 L85.5,444.9 L86.5,441.4 L87.5,437.6 L88.5,433.8 L89.5,430.2 L90.5,427.1 L91.5,424.7 L92.5,422.9 L93.5,421.6 L94.5,420.6 L95.5,419.9 L96.5,419.3 L97.5,418.8 L98.5,418.2 L99.5,417.5 L100.5,416.6 L101.5,415.6 L102.5,414.5 L103.5,413.2 L104.5,411.8 L105.5,410.2 L106.5,408.5 L107.5,406.6 L108.5,404.7 L109.5,402.8 L110.5,400.9 L111.5,399.1 L112.5,397.6 L113.5,396.2 L114.5,395.2 L115.5,394.3 L116.5,393.7 L117.5,393.4 L118.5,393.2 L119.5,393.3 L120.5,393.5 L121.5,394.0 L122.5,394.6 L123.5,395.3 L124.5,396.2 L125.5,397.3 L126.5,398.4 L127.5,399.5 L128.5,400.5 L129.5,401.6 L130.5,402.5 L131.5,403.4 L132.5,404.3 L133.5,405.1 L134.5,405.9 L135.5,406.6 L136.5,407.3 L137.5,408.0 L138.5,408.6 L139.5,409.2 L140.5,409.8 L141.5,410.3 L142.5,410.9 L143.5,411.4 L144.5,411.9 L145.5,412.3 L146.5,412.8 L147.5,413.3 L148.5,413.7 L149.5,414.2 L150.5,414.6 L151.5,415.1 L152.5,415.5 L153.5,416.0 L154.5,416.5 L155.5,416.9 L156.5,417.4 L157.5,418.0 L158.5,418.5 L159.5,419.0 L160.5,419.6 L161.5,420.2 L162.5,420.7 L163.5,421.3 L164.5,421.9 L165.5,422.5 L166.5,423.1 L167.5,423.7 L168.5,424.3 L169.5,424.9 L170.5,425.5 L171.5,426.2 L172.5,426.8 L173.5,427.4 L174.5,428.0 L175.5,428.7 L176.5,429.3 L177.5,429.9 L178.5,430.5 L179.5,431.1 L180.5,431.7 L181.5,432.3 L182.5,432.9 L183.5,433.5 L184.5,434.0 L185.5,434.6 L186.5,435.1 L187.5,435.7 L188.5,436.2 L189.5,436.7 L190.5,437.2 L191.5,437.7 L192.5,438.2 L193.5,438.6 L194.5,439.1 L195.5,439.5 L196.5,439.9 L197.5,440.3 L198.5,440.7 L199.5,441.0 L200.5,441.4 L201.5,441.7 L202.5,442.1 L203.5,442.4 L204.5,442.7 L205.5,443.0 L206.5,443.3 L207.5,443.6 L208.5,443.9 L209.5,444.1 L210.5,444.4 L211.5,444.7 L212.5,444.9 L213.5,445.2 L214.5,445.4 L215.5,445.7 L216.5,445.9 L217.5,446.1 L218.5,446.4 L219.5,446.6 L220.5,446.8 L221.5,447.1 L222.5,447.3 L223.5,447.5 L224.5,447.7 L225.5,447.9 L226.5,448.1 L227.5,448.3 L228.5,448.5 L229.5,448.7 L230.5,448.9 L231.5,449.1 L232.5,449.3 L233.5,449.5 L234.5,449.7 L235.5,449.8 L236.5,450.0 L237.5,450.2 L238.5,450.4 L239.5,450.5 L240.5,450.7 L241.5,450.9 L242.5,451.0 L243.5,451.2 L244.5,451.3 L245.5,451.5 L246.5,451.6 L247.5,451.8 L248.5,451.9 L249.5,452.1 L250.5,452.2 L251.5,452.4 L252.5,452.5 L253.5,452.6 L254.5,452.8 L255.5,452.9 L256.5,453.0 L257.5,453.2 L258.5,453.3 L259.5,453.4 L260.5,453.5 L261.5,453.7 L262.5,453.8 L263.5,453.9 L264.5,454.0 L265.5,454.1 L266.5,454.2 L267.5,454.4 L268.5,454.5 L269.5,454.6 L270.5,454.7 L271.5,454.8 L272.5,454.9 L273.5,455.0 L274.5,455.1 L275.5,455.2 L276.5,455.3 L277.5,455.4 L278.5,455.5 L279.5,455.6 L280.5,455.7 L281.5,455.8 L282.5,455.8 L283.5,455.9 L284.5,456.0 L285.5,456.1 L286.5,456.2 L287.5,456.3 L288.5,456.4 L289.5,456.5 L290.5,456.5 L291.5,456.6 L292.5,456.7 L293.5,456.8 L294.5,456.9 L295.5,457.0 L296.5,457.0 L297.5,457.1 L298.5,457.2 L299.5,457.3 L300.5,457.3 L301.5,457.4 L302.5,457.5 L303.5,457.6 L304.5,457.7 L305.5,457.7 L306.5,457.8 L307.5,457.9 L308.5,458.0 L309.5,458.0 L310.5,458.1 L311.5,458.2 L312.5,458.3 L313.5,458.3 L314.5,458.4 L315.5,458.5 L316.5,458.6 L317.5,458.6 L318.5,458.7 L319.5,458.8 L320.5,458.9 L321.5,458.9 L322.5,459.0 L323.0,459.1" stroke="#2828ae"/>
<path d="M65.5,460.5 L66.5,460.3 L67.5,460.1 L68.5,459.8 L69.5,459.5 L70.5,459.2 L71.5,458.7 L72.5,458.1 L73.5,457.4 L74.5,456.6 L75.5,455.5 L76.5,454.3 L77.5,452.8 L78.5,451.1 L79.5,449.1 L80.5,446.9 L81.5,444.3 L82.5,441.4 L83.5,438.1 L84.5,434.6 L85.5,430.8 L86.5,426.9 L87.5,423.0 L88.5,419.1 L89.5,415.4 L90.5,411.9 L91.5,408.6 L92.5,405.4 L93.5,402.3 L94.5,399.4 L95.5,396.6 L96.5,393.9 L97.5,391.3 L98.5,388.9 L99.5,386.5 L100.5,384.3 L101.5,382.1 L102.5,380.0 L103.5,377.9 L104.5,376.0 L105.5,374.0 L106.5,372.1 L107.5,370.3 L108.5,368.5 L109.5,366.9 L110.5,365.3 L111.5,363.9 L112.5,362.6 L113.5,361.5 L114.5,360.6 L115.5,360.0 L116.5,359.6 L117.5,359.4 L118.5,359.4 L119.5,359.6 L120.5,360.1 L121.5,360.8 L122.5,361.6 L123.5,362.8 L124.5,364.1 L125.5,365.6 L126.5,367.2 L127.5,368.8 L128.5,370.3 L129.5,371.7 L130.5,373.0 L131.5,374.2 L132.5,375.3 L133.5,376.3 L134.5,377.3 L135.5,378.2 L136.5,379.0 L137.5,379.8 L138.5,380.6 L139.5,381.3 L140.5,382.0 L141.5,382.7 L142.5,383.4 L143.5,384.2 L144.5,384.9 L145.5,385.6 L146.5,386.4 L147.5,387.1 L148.5,387.9 L149.5,388.7 L150.5,389.4 L151.5,390.2 L152.5,390.9 L153.5,391.6 L154.5,392.3 L155.5,393.0 L156.5,393.6 L157.5,394.2 L158.5,394.9 L159.5,395.5 L160.5,396.2 L161.5,396.9 L162.5,397.6 L163.5,398.4 L164.5,399.2 L165.5,400.1 L166.5,401.2 L167.5,402.3 L168.5,403.4 L169.5,404.7 L170.5,406.0 L171.5,407.3 L172.5,408.6 L173.5,409.9 L174.5,411.2 L175.5,412.4 L176.5,413.6 L177.5,414.7 L178.5,415.7 L179.5,416.6 L180.5,417.4 L181.5,418.0 L182.5,418.6 L183.5,419.0 L184.5,419.4 L185.5,419.8 L186.5,420.1 L187.5,420.5 L188.5,420.9 L189.5,421.3 L190.5,421.8 L191.5,422.4 L192.5,423.0 L193.5,423.7 L194.5,424.4 L195.5,425.1 L196.5,425.9 L197.5,426.7 L198.5,427.6 L199.5,428.4 L200.5,429.2 L201.5,430.1 L202.5,430.8 L203.5,431.6 L204.5,432.3 L205.5,433.0 L206.5,433.7 L207.5,434.2 L208.5,434.8 L209.5,435.2 L210.5,435.5 L211.5,435.8 L212.5,436.0 L213.5,436.2 L214.5,436.3 L215.5,436.4 L216.5,436.5 L217.5,436.6 L218.5,436.8 L219.5,437.0 L220.5,437.2 L221.5,437.5 L222.5,437.8 L223.5,438.2 L224.5,438.5 L225.5,439.0 L226.5,439.4 L227.5,439.9 L228.5,440.3 L229.5,440.8 L230.5,441.3 L231.5,441.8 L232.5,442.3 L233.5,442.7 L234.5,443.2 L235.5,443.6 L236.5,444.0 L237.5,444.4 L238.5,444.8 L239.5,445.1 L240.5,445.4 L241.5,445.6 L242.5,445.8 L243.5,446.0 L244.5,446.1 L245.5,446.3 L246.5,446.4 L247.5,446.5 L248.5,446.6 L249.5,446.7 L250.5,446.8 L251.5,446.9 L252.5,447.0 L253.5,447.1 L254.5,447.2 L255.5,447.2 L256.5,447.3 L257.5,447.4 L258.5,447.5 L259.5,447.6 L260.5,447.7 L261.5,447.8 L262.5,447.9 L263.5,448.0 L264.5,448.1 L265.5,448.3 L266.5,448.4 L267.5,448.5 L268.5,448.6 L269.5,448.8 L270.5,448.9 L271.5,449.0 L272.5,449.2 L273.5,449.3 L274.5,449.5 L275.5,449.7 L276.5,449.8 L277.5,450.0 L278.5,450.2 L279.5,450.4 L280.5,450.6 L281.5,450.8 L282.5,451.0 L283.5,451.3 L284.5,451.5 L285.5,451.7 L286.5,452.0 L287.5,452.3 L288.5,452.5 L289.5,452.8 L290.5,453.1 L291.5,453.4 L292.5,453.7 L293.5,454.1 L294.5,454.4 L295.5,454.7 L296.5,455.0 L297.5,455.4 L298.5,455.7 L299.5,456.0 L300.5,456.3 L301.5,456.6 L302.5,456.9 L303.5,457.2 L304.5,457.4 L305.5,457.7 L306.5,457.9 L307.5,458.1 L308.5,458.3 L309.5,458.5 L310.5,458.6 L311.5,458.7 L312.5,458.8 L313.5,458.9 L314.5,458.9 L315.5,458.9 L316.5,458.8 L317.5,458.7 L318.5,458.6 L319.5,458.4 L320.5,458.2 L321.5,458.0 L322.5,457.7 L323.0,457.5" stroke="#9a34c0"/>
<path d="M65.5,459.5 L66.5,458.4 L67.5,457.6 L68.5,456.9 L69.5,456.2 L70.5,455.6 L71.5,454.9 L72.5,454.1 L73.5,453.1 L74.5,451.9 L75.5,450.5 L76.5,448.7 L77.5,446.5 L78.5,443.8 L79.5,440.7 L80.5,436.9 L81.5,432.6 L82.5,427.6 L83.5,422.3 L84.5,416.7 L85.5,410.9 L86.5,405.2 L87.5,399.6 L88.5,394.3 L89.5,389.5 L90.5,385.3 L91.5,381.7 L92.5,378.7 L93.5,376.1 L94.5,373.8 L95.5,371.5 L96.5,369.1 L97.5,366.6 L98.5,364.0 L99.5,361.4 L100.5,358.6 L101.5,355.9 L102.5,353.2 L103.5,350.5 L104.5,347.8 L105.5,345.3 L106.5,342.9 L107.5,340.7 L108.5,338.5 L109.5,336.6 L110.5,334.7 L111.5,332.9 L112.5,331.2 L113.5,329.6 L114.5,328.1 L115.5,326.7 L116.5,325.6 L117.5,325.0 L118.5,325.0 L119.5,325.7 L120.5,326.9 L121.5,328.6 L122.5,330.6 L123.5,332.7 L124.5,335.0 L125.5,337.3 L126.5,339.4 L127.5,341.3 L128.5,343.0 L129.5,344.6 L130.5,346.1 L131.5,347.4 L132.5,348.5 L133.5,349.6 L134.5,350.6 L135.5,351.6 L136.5,352.4 L137.5,353.2 L138.5,354.0 L139.5,354.8 L140.5,355.5 L141.5,356.3 L142.5,357.0 L143.5,357.8 L144.5,358.6 L145.5,359.4 L146.5,360.3 L147.5,361.2 L148.5,362.1 L149.5,363.2 L150.5,364.3 L151.5,365.4 L152.5,366.6 L153.5,367.9 L154.5,369.2 L155.5,370.5 L156.5,371.9 L157.5,373.2 L158.5,374.6 L159.5,375.9 L160.5,377.2 L161.5,378.6 L162.5,379.9 L163.5,381.2 L164.5,382.5 L165.5,383.8 L166.5,385.0 L167.5,386.3 L168.5,387.5 L169.5,388.7 L170.5,389.8 L171.5,390.9 L172.5,392.0 L173.5,393.1 L174.5,394.2 L175.5,395.1 L176.5,396.1 L177.5,397.0 L178.5,397.9 L179.5,398.7 L180.5,399.5 L181.5,400.3 L182.5,401.0 L183.5,401.7 L184.5,402.3 L185.5,403.0 L186.5,403.7 L187.5,404.5 L188.5,405.3 L189.5,406.1 L190.5,407.0 L191.5,408.0 L192.5,409.0 L193.5,410.0 L194.5,411.1 L195.5,412.2 L196.5,413.2 L197.5,414.3 L198.5,415.3 L199.5,416.2 L200.5,417.1 L201.5,417.9 L202.5,418.7 L203.5,419.4 L204.5,420.1 L205.5,420.7 L206.5,421.3 L207.5,421.8 L208.5,422.3 L209.5,422.8 L210.5,423.2 L211.5,423.7 L212.5,424.1 L213.5,424.5 L214.5,424.9 L215.5,425.4 L216.5,425.8 L217.5,426.2 L218.5,426.7 L219.5,427.1 L220.5,427.6 L221.5,428.2 L222.5,428.7 L223.5,429.2 L224.5,429.8 L225.5,430.4 L226.5,430.9 L227.5,431.5 L228.5,432.1 L229.5,432.6 L230.5,433.1 L231.5,433.7 L232.5,434.2 L233.5,434.7 L234.5,435.2 L235.5,435.7 L236.5,436.1 L237.5,436.6 L238.5,437.0 L239.5,437.4 L240.5,437.8 L241.5,438.2 L242.5,438.6 L243.5,439.0 L244.5,439.3 L245.5,439.6 L246.5,439.9 L247.5,440.2 L248.5,440.5 L249.5,440.7 L250.5,441.0 L251.5,441.2 L252.5,441.4 L253.5,441.6 L254.5,441.8 L255.5,442.0 L256.5,442.1 L257.5,442.3 L258.5,442.4 L259.5,442.6 L260.5,442.7 L261.5,442.9 L262.5,443.0 L263.5,443.2 L264.5,443.4 L265.5,443.5 L266.5,443.7 L267.5,443.9 L268.5,444.1 L269.5,444.4 L270.5,444.6 L271.5,444.9 L272.5,445.1 L273.5,445.4 L274.5,445.7 L275.5,446.0 L276.5,446.3 L277.5,446.6 L278.5,446.9 L279.5,447.2 L280.5,447.6 L281.5,447.9 L282.5,448.2 L283.5,448.6 L284.5,448.9 L285.5,449.3 L286.5,449.6 L287.5,450.0 L288.5,450.3 L289.5,450.6 L290.5,451.0 L291.5,451.3 L292.5,451.7 L293.5,452.0 L294.5,452.3 L295.5,452.7 L296.5,453.0 L297.5,453.3 L298.5,453.6 L299.5,453.9 L300.5,454.1 L301.5,454.4 L302.5,454.7 L303.5,454.9 L304.5,455.2 L305.5,455.4 L306.5,455.6 L307.5,455.8 L308.5,456.0 L309.5,456.1 L310.5,456.3 L311.5,456.4 L312.5,456.5 L313.5,456.6 L314.5,456.6 L315.5,456.7 L316.5,456.7 L317.5,456.7 L318.5,456.7 L319.5,456.7 L320.5,456.6 L321.5,456.5 L322.5,456.4 L323.0,456.3" stroke="#9a22ac"/>
<path d="M65.5,458.5 L66.5,457.1 L67.5,456.0 L68.5,455.0 L69.5,454.0 L70.5,453.1 L71.5,452.1 L72.5,451.0 L73.5,449.8 L74.5,448.2 L75.5,446.4 L76.5,444.2 L77.5,441.6 L78.5,438.4 L79.5,434.8 L80.5,430.4 L81.5,425.6 L82.5,420.3 L83.5,414.7 L84.5,408.9 L85.5,403.2 L86.5,397.5 L87.5,392.1 L88.5,387.1 L89.5,382.6 L90.5,378.8 L91.5,375.7 L92.5,373.2 L93.5,371.1 L94.5,369.1 L95.5,367.1 L96.5,364.8 L97.5,362.2 L98.5,359.4 L99.5,356.5 L100.5,353.5 L101.5,350.4 L102.5,347.5 L103.5,344.7 L104.5,342.0 L105.5,339.5 L106.5,337.0 L107.5,334.5 L108.5,331.9 L109.5,329.2 L110.5,326.3 L111.5,323.2 L112.5,319.9 L113.5,316.7 L114.5,313.7 L115.5,311.1 L116.5,309.0 L117.5,307.6 L118.5,306.9 L119.5,307.2 L120.5,308.2 L121.5,309.8 L122.5,311.8 L123.5,314.1 L124.5,316.5 L125.5,319.0 L126.5,321.2 L127.5,323.3 L128.5,325.2 L129.5,326.9 L130.5,328.6 L131.5,330.2 L132.5,331.8 L133.5,333.4 L134.5,335.0 L135.5,336.5 L136.5,337.9 L137.5,339.2 L138.5,340.4 L139.5,341.5 L140.5,342.5 L141.5,343.5 L142.5,344.4 L143.5,345.3 L144.5,346.1 L145.5,347.1 L146.5,348.1 L147.5,349.1 L148.5,350.3 L149.5,351.6 L150.5,353.0 L151.5,354.5 L152.5,356.2 L153.5,357.8 L154.5,359.4 L155.5,361.0 L156.5,362.5 L157.5,363.9 L158.5,365.0 L159.5,366.1 L160.5,367.0 L161.5,367.9 L162.5,368.8 L163.5,369.6 L164.5,370.6 L165.5,371.6 L166.5,372.7 L167.5,374.0 L168.5,375.3 L169.5,376.7 L170.5,378.1 L171.5,379.6 L172.5,381.1 L173.5,382.5 L174.5,383.9 L175.5,385.3 L176.5,386.6 L177.5,387.8 L178.5,388.8 L179.5,389.8 L180.5,390.6 L181.5,391.2 L182.5,391.7 L183.5,392.2 L184.5,392.7 L185.5,393.2 L186.5,393.7 L187.5,394.3 L188.5,395.1 L189.5,396.0 L190.5,397.1 L191.5,398.2 L192.5,399.4 L193.5,400.6 L194.5,401.9 L195.5,403.1 L196.5,404.2 L197.5,405.3 L198.5,406.4 L199.5,407.3 L200.5,408.3 L201.5,409.2 L202.5,410.0 L203.5,410.8 L204.5,411.6 L205.5,412.3 L206.5,413.0 L207.5,413.6 L208.5,414.2 L209.5,414.8 L210.5,415.4 L211.5,415.9 L212.5,416.4 L213.5,416.9 L214.5,417.3 L215.5,417.8 L216.5,418.2 L217.5,418.6 L218.5,419.0 L219.5,419.4 L220.5,419.8 L221.5,420.2 L222.5,420.6 L223.5,421.0 L224.5,421.4 L225.5,421.8 L226.5,422.3 L227.5,422.8 L228.5,423.3 L229.5,423.8 L230.5,424.3 L231.5,424.9 L232.5,425.6 L233.5,426.2 L234.5,427.0 L235.5,427.7 L236.5,428.6 L237.5,429.4 L238.5,430.3 L239.5,431.1 L240.5,432.0 L241.5,432.8 L242.5,433.5 L243.5,434.2 L244.5,434.8 L245.5,435.2 L246.5,435.6 L247.5,435.9 L248.5,436.0 L249.5,436.2 L250.5,436.2 L251.5,436.3 L252.5,436.3 L253.5,436.3 L254.5,436.3 L255.5,436.4 L256.5,436.4 L257.5,436.6 L258.5,436.8 L259.5,437.0 L260.5,437.3 L261.5,437.6 L262.5,437.9 L263.5,438.3 L264.5,438.7 L265.5,439.2 L266.5,439.6 L267.5,440.1 L268.5,440.6 L269.5,441.1 L270.5,441.6 L271.5,442.1 L272.5,442.6 L273.5,443.1 L274.5,443.6 L275.5,444.1 L276.5,444.5 L277.5,445.0 L278.5,445.4 L279.5,445.8 L280.5,446.2 L281.5,446.6 L282.5,446.9 L283.5,447.2 L284.5,447.5 L285.5,447.8 L286.5,448.1 L287.5,448.3 L288.5,448.5 L289.5,448.7 L290.5,448.9 L291.5,449.1 L292.5,449.3 L293.5,449.4 L294.5,449.6 L295.5,449.7 L296.5,449.9 L297.5,450.0 L298.5,450.1 L299.5,450.3 L300.5,450.4 L301.5,450.5 L302.5,450.6 L303.5,450.8 L304.5,450.9 L305.5,451.0 L306.5,451.2 L307.5,451.3 L308.5,451.5 L309.5,451.6 L310.5,451.8 L311.5,452.0 L312.5,452.2 L313.5,452.4 L314.5,452.6 L315.5,452.8 L316.5,453.1 L317.5,453.3 L318.5,453.6 L319.5,453.9 L320.5,454.3 L321.5,454.6 L322.5,455.0 L323.0,455.2" stroke="#8a1c58"/>
<path d="M65.5,457.4 L66.5,456.9 L67.5,456.2 L68.5,455.2 L69.5,454.0 L70.5,452.6 L71.5,451.0 L72.5,449.1 L73.5,446.9 L74.5,444.5 L75.5,441.8 L76.5,438.9 L77.5,435.6 L78.5,432.1 L79.5,428.2 L80.5,424.1 L81.5,419.6 L82.5,414.8 L83.5,409.7 L84.5,404.3 L85.5,398.5 L86.5,392.5 L87.5,386.4 L88.5,380.6 L89.5,375.2 L90.5,370.6 L91.5,366.9 L92.5,364.0 L93.5,361.5 L94.5,359.5 L95.5,357.5 L96.5,355.4 L97.5,353.2 L98.5,350.9 L99.5,348.6 L100.5,346.5 L101.5,344.5 L102.5,342.7 L103.5,341.1 L104.5,339.5 L105.5,337.8 L106.5,335.6 L107.5,332.8 L108.5,329.1 L109.5,324.6 L110.5,319.3 L111.5,313.7 L112.5,308.1 L113.5,302.7 L114.5,297.7 L115.5,293.2 L116.5,289.5 L117.5,286.6 L118.5,284.7 L119.5,284.0 L120.5,284.5 L121.5,286.0 L122.5,288.4 L123.5,291.3 L124.5,294.7 L125.5,298.2 L126.5,301.8 L127.5,305.2 L128.5,308.2 L129.5,310.8 L130.5,313.0 L131.5,314.8 L132.5,316.3 L133.5,317.5 L134.5,318.4 L135.5,319.2 L136.5,319.7 L137.5,320.2 L138.5,320.6 L139.5,320.9 L140.5,321.2 L141.5,321.6 L142.5,322.2 L143.5,323.1 L144.5,324.4 L145.5,326.2 L146.5,328.4 L147.5,330.8 L148.5,333.4 L149.5,335.8 L150.5,338.0 L151.5,339.9 L152.5,341.7 L153.5,343.2 L154.5,344.6 L155.5,345.8 L156.5,347.0 L157.5,348.0 L158.5,349.0 L159.5,350.0 L160.5,351.0 L161.5,352.0 L162.5,353.1 L163.5,354.2 L164.5,355.5 L165.5,356.8 L166.5,358.2 L167.5,359.7 L168.5,361.2 L169.5,362.8 L170.5,364.3 L171.5,365.9 L172.5,367.4 L173.5,368.9 L174.5,370.3 L175.5,371.6 L176.5,372.9 L177.5,374.0 L178.5,375.0 L179.5,375.8 L180.5,376.5 L181.5,377.1 L182.5,377.6 L183.5,378.1 L184.5,378.6 L185.5,379.2 L186.5,379.8 L187.5,380.6 L188.5,381.5 L189.5,382.6 L190.5,383.9 L191.5,385.2 L192.5,386.7 L193.5,388.2 L194.5,389.8 L195.5,391.4 L196.5,392.9 L197.5,394.5 L198.5,395.9 L199.5,397.3 L200.5,398.7 L201.5,399.9 L202.5,401.1 L203.5,402.2 L204.5,403.3 L205.5,404.3 L206.5,405.2 L207.5,406.1 L208.5,406.9 L209.5,407.7 L210.5,408.4 L211.5,409.0 L212.5,409.6 L213.5,410.1 L214.5,410.6 L215.5,411.0 L216.5,411.3 L217.5,411.6 L218.5,411.9 L219.5,412.1 L220.5,412.4 L221.5,412.6 L222.5,413.0 L223.5,413.5 L224.5,414.1 L225.5,414.7 L226.5,415.5 L227.5,416.4 L228.5,417.3 L229.5,418.2 L230.5,419.1 L231.5,420.1 L232.5,421.0 L233.5,421.8 L234.5,422.6 L235.5,423.3 L236.5,424.0 L237.5,424.6 L238.5,425.1 L239.5,425.6 L240.5,426.1 L241.5,426.6 L242.5,427.0 L243.5,427.4 L244.5,427.7 L245.5,428.1 L246.5,428.4 L247.5,428.8 L248.5,429.1 L249.5,429.4 L250.5,429.8 L251.5,430.1 L252.5,430.5 L253.5,430.9 L254.5,431.3 L255.5,431.7 L256.5,432.2 L257.5,432.6 L258.5,433.1 L259.5,433.7 L260.5,434.2 L261.5,434.7 L262.5,435.3 L263.5,435.8 L264.5,436.4 L265.5,437.0 L266.5,437.5 L267.5,438.1 L268.5,438.7 L269.5,439.2 L270.5,439.8 L271.5,440.3 L272.5,440.8 L273.5,441.4 L274.5,441.9 L275.5,442.4 L276.5,442.8 L277.5,443.3 L278.5,443.7 L279.5,444.1 L280.5,444.5 L281.5,444.8 L282.5,445.2 L283.5,445.5 L284.5,445.8 L285.5,446.1 L286.5,446.4 L287.5,446.7 L288.5,446.9 L289.5,447.2 L290.5,447.4 L291.5,447.6 L292.5,447.9 L293.5,448.1 L294.5,448.3 L295.5,448.5 L296.5,448.6 L297.5,448.8 L298.5,449.0 L299.5,449.2 L300.5,449.3 L301.5,449.5 L302.5,449.7 L303.5,449.8 L304.5,450.0 L305.5,450.2 L306.5,450.3 L307.5,450.5 L308.5,450.7 L309.5,450.9 L310.5,451.1 L311.5,451.3 L312.5,451.5 L313.5,451.7 L314.5,451.9 L315.5,452.1 L316.5,452.3 L317.5,452.6 L318.5,452.9 L319.5,453.1 L320.5,453.4 L321.5,453.7 L322.5,454.0 L323.0,454.2" stroke="#878728"/>
</g>
<g stroke="#5a5a5a" stroke-width="1.5" fill="none">
<path d="M65.2,268 V469.2 H323"/>
<line x1="60.5" y1="464.90" x2="65" y2="464.90"/>
<text x="58" y="468.30" class="tb" text-anchor="end">0</text>
<line x1="60.5" y1="419.20" x2="65" y2="419.20"/>
<text x="58" y="422.60" class="tb" text-anchor="end">20000</text>
<line x1="60.5" y1="373.50" x2="65" y2="373.50"/>
<text x="58" y="376.90" class="tb" text-anchor="end">40000</text>
<line x1="60.5" y1="327.80" x2="65" y2="327.80"/>
<text x="58" y="331.20" class="tb" text-anchor="end">60000</text>
<line x1="60.5" y1="282.10" x2="65" y2="282.10"/>
<text x="58" y="285.50" class="tb" text-anchor="end">80000</text>
<line x1="62.5" y1="442.05" x2="65" y2="442.05"/>
<line x1="62.5" y1="396.35" x2="65" y2="396.35"/>
<line x1="62.5" y1="350.65" x2="65" y2="350.65"/>
<line x1="62.5" y1="304.95" x2="65" y2="304.95"/>
<line x1="81.10" y1="469" x2="81.10" y2="473.5"/>
<text x="81.40" y="484.9" class="tb" text-anchor="middle">300</text>
<line x1="161.72" y1="469" x2="161.72" y2="473.5"/>
<text x="162.02" y="484.9" class="tb" text-anchor="middle">350</text>
<line x1="242.33" y1="469" x2="242.33" y2="473.5"/>
<text x="242.63" y="484.9" class="tb" text-anchor="middle">400</text>
<line x1="322.94" y1="469" x2="322.94" y2="473.5"/>
<text x="323.25" y="484.9" class="tb" text-anchor="middle">450</text>
<line x1="121.41" y1="469" x2="121.41" y2="471.5"/>
<line x1="202.02" y1="469" x2="202.02" y2="471.5"/>
<line x1="282.64" y1="469" x2="282.64" y2="471.5"/>
</g>
<polygon fill="#16af50" points="272.2,342.1 279.2,349.4 275.75,349.4 275.75,395.8 268.65,395.8 268.65,349.4 265.2,349.4"/>
<text class="cal" x="259.8" y="338" style="font-size:17px">99%</text>
<text class="cal" x="279.2" y="380.2" style="font-size:17.8px">DMSO</text>
<text class="cal" x="265.3" y="417.1" style="font-size:17px">0%</text>
<!-- panel c -->
<text transform="translate(0.6,543.3) scale(1,1.1)" class="lab" style="font-size:17px">(c)</text>
<rect x="160" y="559.5" width="140" height="3.5" fill="#f6f3c8" opacity="0.7"/>
<polygon fill="url(#bg)" points="34.5,536.8 319.7,536.8 319.7,526 342.7,548 319.7,570 319.7,559.9 34.5,559.9"/>
<text transform="translate(182.8,554.6) scale(1,1.08)" text-anchor="middle" class="serif" style="font-size:18.5px;font-weight:bold;fill:#111">Increasing DMSO percentage</text>
<defs>
<linearGradient id="pbg" x1="0" y1="0" x2="1" y2="0">
<stop offset="0" stop-color="#0e0e84"/>
<stop offset="0.04" stop-color="#13139c"/>
<stop offset="0.35" stop-color="#1616a4"/>
<stop offset="0.6" stop-color="#1a26b0"/>
<stop offset="0.7" stop-color="#1a2cb0"/>
<stop offset="0.76" stop-color="#15258c"/>
<stop offset="1" stop-color="#0e1468"/>
</linearGradient>
<linearGradient id="hsG" x1="0" y1="0" x2="1" y2="0">
<stop offset="0" stop-color="#60b8a8"/>
<stop offset="0.15" stop-color="#2a5888"/>
<stop offset="0.5" stop-color="#173670"/>
<stop offset="0.85" stop-color="#2a5888"/>
<stop offset="1" stop-color="#60b8a8"/>
</linearGradient>
<linearGradient id="nkG" x1="0" y1="0" x2="1" y2="0">
<stop offset="0" stop-color="#4a9ab0"/>
<stop offset="0.25" stop-color="#204a80"/>
<stop offset="0.75" stop-color="#204a80"/>
<stop offset="1" stop-color="#4a9ab0"/>
</linearGradient>
</defs>
<rect x="13.5" y="573.3" width="339.2" height="85" fill="url(#pbg)"/>
<clipPath id="pclip"><rect x="13.5" y="573.3" width="339.2" height="85"/></clipPath><filter id="pblur" x="-5%" y="-5%" width="110%" height="110%"><feGaussianBlur stdDeviation="0.7"/></filter><g clip-path="url(#pclip)"><g filter="url(#pblur)">
<rect x="78" y="618" width="2" height="36" fill="#3440c0" opacity="0.6"/>
<rect x="82" y="618" width="1.5" height="36" fill="#3440c0" opacity="0.5"/>
<rect x="20" y="619" width="92" height="1.2" fill="#2a30b8" opacity="0.6"/>
<rect x="114" y="620" width="24" height="34.5" fill="#1c24b0"/>
<rect x="114" y="620" width="24" height="1.5" fill="#2c3cc0" opacity="0.8"/>
<rect x="114" y="620" width="1.5" height="34.5" fill="#2c3cc0" opacity="0.6"/>
<rect x="136.5" y="620" width="1.5" height="34.5" fill="#2c3cc0" opacity="0.6"/>
<rect x="138.5" y="620.5" width="32.5" height="34.0" fill="#2c46c8"/>
<rect x="138.5" y="620.5" width="32.5" height="1.5" fill="#5080d4" opacity="0.8"/>
<rect x="138.5" y="620.5" width="1.5" height="34.0" fill="#5080d4" opacity="0.6"/>
<rect x="169.5" y="620.5" width="1.5" height="34.0" fill="#5080d4" opacity="0.6"/>
<rect x="173" y="618.5" width="28" height="36.0" fill="#3258d4"/>
<rect x="173" y="618.5" width="28" height="1.5" fill="#5a90dc" opacity="0.8"/>
<rect x="173" y="618.5" width="1.5" height="36.0" fill="#5a90dc" opacity="0.6"/>
<rect x="199.5" y="618.5" width="1.5" height="36.0" fill="#5a90dc" opacity="0.6"/>
<rect x="204.5" y="616" width="27.5" height="38.5" fill="#3664d0"/>
<rect x="204.5" y="616" width="27.5" height="1.5" fill="#68b0d8" opacity="0.8"/>
<rect x="204.5" y="616" width="1.5" height="38.5" fill="#68b0d8" opacity="0.6"/>
<rect x="230.5" y="616" width="1.5" height="38.5" fill="#68b0d8" opacity="0.6"/>
<rect x="233.5" y="604" width="26.5" height="15.700000000000045" fill="#24409c"/>
<rect x="233.5" y="619.7" width="26.5" height="34.799999999999955" fill="#4488cc"/>
<rect x="233.5" y="619.7" width="26.5" height="1.5" fill="#80d0c8" opacity="0.8"/>
<rect x="233.5" y="619.7" width="1.5" height="34.799999999999955" fill="#80d0c8" opacity="0.6"/>
<rect x="258.5" y="619.7" width="1.5" height="34.799999999999955" fill="#80d0c8" opacity="0.6"/>
<rect x="235" y="621" width="12" height="33" fill="#60a8d8" opacity="0.6"/>
<rect x="264" y="581.5" width="23.600000000000023" height="22" rx="5" fill="#26447c" stroke="#5cb4a8" stroke-width="1.8"/>
<rect x="262.5" y="600.5" width="26.600000000000023" height="18.299999999999955" rx="4" fill="url(#hsG)"/>
<rect x="262" y="618.8" width="27.600000000000023" height="37.200000000000045" fill="#aaea9c"/>
<rect x="263" y="620.8" width="5" height="33.200000000000045" fill="#c4f4a8" opacity="0.8"/>
<rect x="262" y="618.8" width="27.600000000000023" height="2" fill="#c8f4b8" opacity="0.6"/>
<rect x="262" y="655" width="27.600000000000023" height="2.5" fill="#4a90b0" opacity="0.9"/>
<rect x="291.8" y="581.5" width="24.19999999999999" height="22" rx="5" fill="#26447c" stroke="#5cb4a8" stroke-width="1.8"/>
<rect x="290.3" y="600.5" width="27.19999999999999" height="17.799999999999955" rx="4" fill="url(#hsG)"/>
<rect x="289.8" y="618.3" width="28.19999999999999" height="37.700000000000045" fill="#a0e6ac"/>
<rect x="290.8" y="620.3" width="5" height="33.700000000000045" fill="#b8f0b8" opacity="0.8"/>
<rect x="289.8" y="618.3" width="28.19999999999999" height="2" fill="#c8f4b8" opacity="0.6"/>
<rect x="289.8" y="655" width="28.19999999999999" height="2.5" fill="#4a90b0" opacity="0.9"/>
<rect x="320.3" y="581.5" width="25.69999999999999" height="22" rx="5" fill="#26447c" stroke="#5cb4a8" stroke-width="1.8"/>
<rect x="318.8" y="600.5" width="28.69999999999999" height="21.200000000000045" rx="4" fill="url(#hsG)"/>
<rect x="318.3" y="621.7" width="29.69999999999999" height="34.299999999999955" fill="#b2ec90"/>
<rect x="319.3" y="623.7" width="5" height="30.299999999999955" fill="#c4f4a0" opacity="0.8"/>
<rect x="318.3" y="621.7" width="29.69999999999999" height="2" fill="#c8f4b8" opacity="0.6"/>
<rect x="318.3" y="655" width="29.69999999999999" height="2.5" fill="#4a90b0" opacity="0.9"/>
<rect x="348" y="573.3" width="4.7" height="85" fill="#0e1048"/>
</g></g>
<text x="34.5" y="599.9" text-anchor="middle" class="serif" style="font-size:19px;fill:#fff">0</text>
<text x="62" y="599.9" text-anchor="middle" class="serif" style="font-size:19px;fill:#fff">10</text>
<text x="93.4" y="599.9" text-anchor="middle" class="serif" style="font-size:19px;fill:#fff">20</text>
<text x="125.5" y="599.9" text-anchor="middle" class="serif" style="font-size:19px;fill:#fff">30</text>
<text x="153.7" y="599.9" text-anchor="middle" class="serif" style="font-size:19px;fill:#fff">40</text>
<text x="181.4" y="599.9" text-anchor="middle" class="serif" style="font-size:19px;fill:#fff">50</text>
<text x="213.6" y="599.9" text-anchor="middle" class="serif" style="font-size:19px;fill:#fff">60</text>
<text x="242" y="599.9" text-anchor="middle" class="serif" style="font-size:19px;fill:#fff">70</text>
<text x="274" y="599.9" text-anchor="middle" class="serif" style="font-size:19px;fill:#fff">80</text>
<text x="300.8" y="599.9" text-anchor="middle" class="serif" style="font-size:19px;fill:#fff">90</text>
<text x="328.3" y="599.9" text-anchor="middle" class="serif" style="font-size:19px;fill:#fff">99</text>
</svg>
</body></html>
